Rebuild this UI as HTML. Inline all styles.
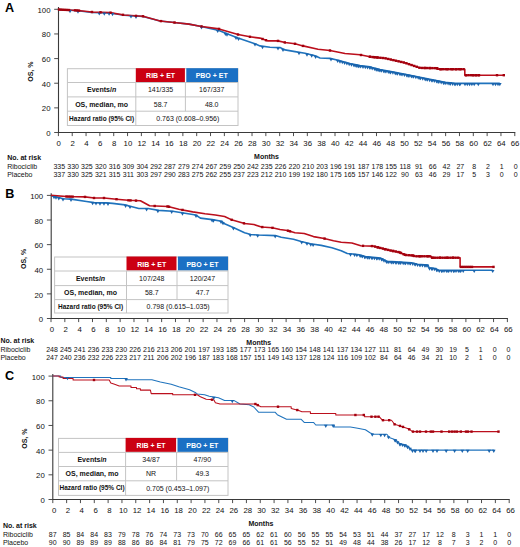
<!DOCTYPE html>
<html><head><meta charset="utf-8"><style>
html,body{margin:0;padding:0;background:#fff;}
body{width:520px;height:547px;overflow:hidden;}
svg{display:block;font-family:"Liberation Sans",sans-serif;}
</style></head><body>
<svg width="520" height="547" viewBox="0 0 520 547">
<rect width="520" height="547" fill="#fff"/>
<g>
<path d="M58.50,7.10V132.50H515.29" fill="none" stroke="#3a3a3a" stroke-width="1.1"/>
<line x1="54.20" y1="132.50" x2="58.50" y2="132.50" stroke="#3a3a3a" stroke-width="0.9"/>
<text x="50.50" y="135.81" font-size="7.8" text-anchor="end" font-weight="normal" fill="#111" >0</text>
<line x1="54.20" y1="107.86" x2="58.50" y2="107.86" stroke="#3a3a3a" stroke-width="0.9"/>
<text x="50.50" y="111.17" font-size="7.8" text-anchor="end" font-weight="normal" fill="#111" >20</text>
<line x1="54.20" y1="83.22" x2="58.50" y2="83.22" stroke="#3a3a3a" stroke-width="0.9"/>
<text x="50.50" y="86.53" font-size="7.8" text-anchor="end" font-weight="normal" fill="#111" >40</text>
<line x1="54.20" y1="58.58" x2="58.50" y2="58.58" stroke="#3a3a3a" stroke-width="0.9"/>
<text x="50.50" y="61.89" font-size="7.8" text-anchor="end" font-weight="normal" fill="#111" >60</text>
<line x1="54.20" y1="33.94" x2="58.50" y2="33.94" stroke="#3a3a3a" stroke-width="0.9"/>
<text x="50.50" y="37.25" font-size="7.8" text-anchor="end" font-weight="normal" fill="#111" >80</text>
<line x1="54.20" y1="9.30" x2="58.50" y2="9.30" stroke="#3a3a3a" stroke-width="0.9"/>
<text x="50.50" y="12.61" font-size="7.8" text-anchor="end" font-weight="normal" fill="#111" >100</text>
<line x1="58.40" y1="132.50" x2="58.40" y2="136.10" stroke="#3a3a3a" stroke-width="0.9"/>
<text x="58.75" y="146.21" font-size="7.8" text-anchor="middle" font-weight="normal" fill="#111" >0</text>
<line x1="72.23" y1="132.50" x2="72.23" y2="136.10" stroke="#3a3a3a" stroke-width="0.9"/>
<text x="72.58" y="146.21" font-size="7.8" text-anchor="middle" font-weight="normal" fill="#111" >2</text>
<line x1="86.06" y1="132.50" x2="86.06" y2="136.10" stroke="#3a3a3a" stroke-width="0.9"/>
<text x="86.41" y="146.21" font-size="7.8" text-anchor="middle" font-weight="normal" fill="#111" >4</text>
<line x1="99.89" y1="132.50" x2="99.89" y2="136.10" stroke="#3a3a3a" stroke-width="0.9"/>
<text x="100.24" y="146.21" font-size="7.8" text-anchor="middle" font-weight="normal" fill="#111" >6</text>
<line x1="113.72" y1="132.50" x2="113.72" y2="136.10" stroke="#3a3a3a" stroke-width="0.9"/>
<text x="114.07" y="146.21" font-size="7.8" text-anchor="middle" font-weight="normal" fill="#111" >8</text>
<line x1="127.55" y1="132.50" x2="127.55" y2="136.10" stroke="#3a3a3a" stroke-width="0.9"/>
<text x="127.90" y="146.21" font-size="7.8" text-anchor="middle" font-weight="normal" fill="#111" >10</text>
<line x1="141.38" y1="132.50" x2="141.38" y2="136.10" stroke="#3a3a3a" stroke-width="0.9"/>
<text x="141.73" y="146.21" font-size="7.8" text-anchor="middle" font-weight="normal" fill="#111" >12</text>
<line x1="155.21" y1="132.50" x2="155.21" y2="136.10" stroke="#3a3a3a" stroke-width="0.9"/>
<text x="155.56" y="146.21" font-size="7.8" text-anchor="middle" font-weight="normal" fill="#111" >14</text>
<line x1="169.04" y1="132.50" x2="169.04" y2="136.10" stroke="#3a3a3a" stroke-width="0.9"/>
<text x="169.39" y="146.21" font-size="7.8" text-anchor="middle" font-weight="normal" fill="#111" >16</text>
<line x1="182.87" y1="132.50" x2="182.87" y2="136.10" stroke="#3a3a3a" stroke-width="0.9"/>
<text x="183.22" y="146.21" font-size="7.8" text-anchor="middle" font-weight="normal" fill="#111" >18</text>
<line x1="196.70" y1="132.50" x2="196.70" y2="136.10" stroke="#3a3a3a" stroke-width="0.9"/>
<text x="197.05" y="146.21" font-size="7.8" text-anchor="middle" font-weight="normal" fill="#111" >20</text>
<line x1="210.53" y1="132.50" x2="210.53" y2="136.10" stroke="#3a3a3a" stroke-width="0.9"/>
<text x="210.88" y="146.21" font-size="7.8" text-anchor="middle" font-weight="normal" fill="#111" >22</text>
<line x1="224.36" y1="132.50" x2="224.36" y2="136.10" stroke="#3a3a3a" stroke-width="0.9"/>
<text x="224.71" y="146.21" font-size="7.8" text-anchor="middle" font-weight="normal" fill="#111" >24</text>
<line x1="238.19" y1="132.50" x2="238.19" y2="136.10" stroke="#3a3a3a" stroke-width="0.9"/>
<text x="238.54" y="146.21" font-size="7.8" text-anchor="middle" font-weight="normal" fill="#111" >26</text>
<line x1="252.02" y1="132.50" x2="252.02" y2="136.10" stroke="#3a3a3a" stroke-width="0.9"/>
<text x="252.37" y="146.21" font-size="7.8" text-anchor="middle" font-weight="normal" fill="#111" >28</text>
<line x1="265.85" y1="132.50" x2="265.85" y2="136.10" stroke="#3a3a3a" stroke-width="0.9"/>
<text x="266.20" y="146.21" font-size="7.8" text-anchor="middle" font-weight="normal" fill="#111" >30</text>
<line x1="279.68" y1="132.50" x2="279.68" y2="136.10" stroke="#3a3a3a" stroke-width="0.9"/>
<text x="280.03" y="146.21" font-size="7.8" text-anchor="middle" font-weight="normal" fill="#111" >32</text>
<line x1="293.51" y1="132.50" x2="293.51" y2="136.10" stroke="#3a3a3a" stroke-width="0.9"/>
<text x="293.86" y="146.21" font-size="7.8" text-anchor="middle" font-weight="normal" fill="#111" >34</text>
<line x1="307.34" y1="132.50" x2="307.34" y2="136.10" stroke="#3a3a3a" stroke-width="0.9"/>
<text x="307.69" y="146.21" font-size="7.8" text-anchor="middle" font-weight="normal" fill="#111" >36</text>
<line x1="321.17" y1="132.50" x2="321.17" y2="136.10" stroke="#3a3a3a" stroke-width="0.9"/>
<text x="321.52" y="146.21" font-size="7.8" text-anchor="middle" font-weight="normal" fill="#111" >38</text>
<line x1="335.00" y1="132.50" x2="335.00" y2="136.10" stroke="#3a3a3a" stroke-width="0.9"/>
<text x="335.35" y="146.21" font-size="7.8" text-anchor="middle" font-weight="normal" fill="#111" >40</text>
<line x1="348.83" y1="132.50" x2="348.83" y2="136.10" stroke="#3a3a3a" stroke-width="0.9"/>
<text x="349.18" y="146.21" font-size="7.8" text-anchor="middle" font-weight="normal" fill="#111" >42</text>
<line x1="362.66" y1="132.50" x2="362.66" y2="136.10" stroke="#3a3a3a" stroke-width="0.9"/>
<text x="363.01" y="146.21" font-size="7.8" text-anchor="middle" font-weight="normal" fill="#111" >44</text>
<line x1="376.49" y1="132.50" x2="376.49" y2="136.10" stroke="#3a3a3a" stroke-width="0.9"/>
<text x="376.84" y="146.21" font-size="7.8" text-anchor="middle" font-weight="normal" fill="#111" >46</text>
<line x1="390.32" y1="132.50" x2="390.32" y2="136.10" stroke="#3a3a3a" stroke-width="0.9"/>
<text x="390.67" y="146.21" font-size="7.8" text-anchor="middle" font-weight="normal" fill="#111" >48</text>
<line x1="404.15" y1="132.50" x2="404.15" y2="136.10" stroke="#3a3a3a" stroke-width="0.9"/>
<text x="404.50" y="146.21" font-size="7.8" text-anchor="middle" font-weight="normal" fill="#111" >50</text>
<line x1="417.98" y1="132.50" x2="417.98" y2="136.10" stroke="#3a3a3a" stroke-width="0.9"/>
<text x="418.33" y="146.21" font-size="7.8" text-anchor="middle" font-weight="normal" fill="#111" >52</text>
<line x1="431.81" y1="132.50" x2="431.81" y2="136.10" stroke="#3a3a3a" stroke-width="0.9"/>
<text x="432.16" y="146.21" font-size="7.8" text-anchor="middle" font-weight="normal" fill="#111" >54</text>
<line x1="445.64" y1="132.50" x2="445.64" y2="136.10" stroke="#3a3a3a" stroke-width="0.9"/>
<text x="445.99" y="146.21" font-size="7.8" text-anchor="middle" font-weight="normal" fill="#111" >56</text>
<line x1="459.47" y1="132.50" x2="459.47" y2="136.10" stroke="#3a3a3a" stroke-width="0.9"/>
<text x="459.82" y="146.21" font-size="7.8" text-anchor="middle" font-weight="normal" fill="#111" >58</text>
<line x1="473.30" y1="132.50" x2="473.30" y2="136.10" stroke="#3a3a3a" stroke-width="0.9"/>
<text x="473.65" y="146.21" font-size="7.8" text-anchor="middle" font-weight="normal" fill="#111" >60</text>
<line x1="487.13" y1="132.50" x2="487.13" y2="136.10" stroke="#3a3a3a" stroke-width="0.9"/>
<text x="487.48" y="146.21" font-size="7.8" text-anchor="middle" font-weight="normal" fill="#111" >62</text>
<line x1="500.96" y1="132.50" x2="500.96" y2="136.10" stroke="#3a3a3a" stroke-width="0.9"/>
<text x="501.31" y="146.21" font-size="7.8" text-anchor="middle" font-weight="normal" fill="#111" >64</text>
<line x1="514.79" y1="132.50" x2="514.79" y2="136.10" stroke="#3a3a3a" stroke-width="0.9"/>
<text x="515.14" y="146.21" font-size="7.8" text-anchor="middle" font-weight="normal" fill="#111" >66</text>
<text transform="translate(32.82,71.70) rotate(-90)" font-size="7.0" font-weight="bold" text-anchor="middle" fill="#111">OS, %</text>
<text x="4.90" y="11.80" font-size="12.6" font-weight="bold" fill="#000">A</text>
<text x="7.20" y="159.82" font-size="7.0" text-anchor="start" font-weight="bold" fill="#111" >No. at risk</text>
<text x="266.50" y="158.92" font-size="7.0" text-anchor="middle" font-weight="bold" fill="#111" >Months</text>
<text x="7.20" y="168.62" font-size="7.0" text-anchor="start" font-weight="normal" fill="#111" >Ribociclib</text>
<text x="7.20" y="176.72" font-size="7.0" text-anchor="start" font-weight="normal" fill="#111" >Placebo</text>
<text x="59.25" y="168.62" font-size="7.0" text-anchor="middle" font-weight="normal" fill="#111" >335</text>
<text x="59.25" y="176.72" font-size="7.0" text-anchor="middle" font-weight="normal" fill="#111" >337</text>
<text x="73.08" y="168.62" font-size="7.0" text-anchor="middle" font-weight="normal" fill="#111" >330</text>
<text x="73.08" y="176.72" font-size="7.0" text-anchor="middle" font-weight="normal" fill="#111" >330</text>
<text x="86.91" y="168.62" font-size="7.0" text-anchor="middle" font-weight="normal" fill="#111" >325</text>
<text x="86.91" y="176.72" font-size="7.0" text-anchor="middle" font-weight="normal" fill="#111" >325</text>
<text x="100.74" y="168.62" font-size="7.0" text-anchor="middle" font-weight="normal" fill="#111" >320</text>
<text x="100.74" y="176.72" font-size="7.0" text-anchor="middle" font-weight="normal" fill="#111" >321</text>
<text x="114.57" y="168.62" font-size="7.0" text-anchor="middle" font-weight="normal" fill="#111" >316</text>
<text x="114.57" y="176.72" font-size="7.0" text-anchor="middle" font-weight="normal" fill="#111" >315</text>
<text x="128.40" y="168.62" font-size="7.0" text-anchor="middle" font-weight="normal" fill="#111" >309</text>
<text x="128.40" y="176.72" font-size="7.0" text-anchor="middle" font-weight="normal" fill="#111" >311</text>
<text x="142.23" y="168.62" font-size="7.0" text-anchor="middle" font-weight="normal" fill="#111" >304</text>
<text x="142.23" y="176.72" font-size="7.0" text-anchor="middle" font-weight="normal" fill="#111" >303</text>
<text x="156.06" y="168.62" font-size="7.0" text-anchor="middle" font-weight="normal" fill="#111" >292</text>
<text x="156.06" y="176.72" font-size="7.0" text-anchor="middle" font-weight="normal" fill="#111" >297</text>
<text x="169.89" y="168.62" font-size="7.0" text-anchor="middle" font-weight="normal" fill="#111" >287</text>
<text x="169.89" y="176.72" font-size="7.0" text-anchor="middle" font-weight="normal" fill="#111" >290</text>
<text x="183.72" y="168.62" font-size="7.0" text-anchor="middle" font-weight="normal" fill="#111" >279</text>
<text x="183.72" y="176.72" font-size="7.0" text-anchor="middle" font-weight="normal" fill="#111" >283</text>
<text x="197.55" y="168.62" font-size="7.0" text-anchor="middle" font-weight="normal" fill="#111" >274</text>
<text x="197.55" y="176.72" font-size="7.0" text-anchor="middle" font-weight="normal" fill="#111" >275</text>
<text x="211.38" y="168.62" font-size="7.0" text-anchor="middle" font-weight="normal" fill="#111" >267</text>
<text x="211.38" y="176.72" font-size="7.0" text-anchor="middle" font-weight="normal" fill="#111" >262</text>
<text x="225.21" y="168.62" font-size="7.0" text-anchor="middle" font-weight="normal" fill="#111" >259</text>
<text x="225.21" y="176.72" font-size="7.0" text-anchor="middle" font-weight="normal" fill="#111" >255</text>
<text x="239.04" y="168.62" font-size="7.0" text-anchor="middle" font-weight="normal" fill="#111" >250</text>
<text x="239.04" y="176.72" font-size="7.0" text-anchor="middle" font-weight="normal" fill="#111" >237</text>
<text x="252.87" y="168.62" font-size="7.0" text-anchor="middle" font-weight="normal" fill="#111" >242</text>
<text x="252.87" y="176.72" font-size="7.0" text-anchor="middle" font-weight="normal" fill="#111" >223</text>
<text x="266.70" y="168.62" font-size="7.0" text-anchor="middle" font-weight="normal" fill="#111" >235</text>
<text x="266.70" y="176.72" font-size="7.0" text-anchor="middle" font-weight="normal" fill="#111" >212</text>
<text x="280.53" y="168.62" font-size="7.0" text-anchor="middle" font-weight="normal" fill="#111" >226</text>
<text x="280.53" y="176.72" font-size="7.0" text-anchor="middle" font-weight="normal" fill="#111" >210</text>
<text x="294.36" y="168.62" font-size="7.0" text-anchor="middle" font-weight="normal" fill="#111" >220</text>
<text x="294.36" y="176.72" font-size="7.0" text-anchor="middle" font-weight="normal" fill="#111" >199</text>
<text x="308.19" y="168.62" font-size="7.0" text-anchor="middle" font-weight="normal" fill="#111" >210</text>
<text x="308.19" y="176.72" font-size="7.0" text-anchor="middle" font-weight="normal" fill="#111" >192</text>
<text x="322.02" y="168.62" font-size="7.0" text-anchor="middle" font-weight="normal" fill="#111" >203</text>
<text x="322.02" y="176.72" font-size="7.0" text-anchor="middle" font-weight="normal" fill="#111" >180</text>
<text x="335.85" y="168.62" font-size="7.0" text-anchor="middle" font-weight="normal" fill="#111" >196</text>
<text x="335.85" y="176.72" font-size="7.0" text-anchor="middle" font-weight="normal" fill="#111" >175</text>
<text x="349.68" y="168.62" font-size="7.0" text-anchor="middle" font-weight="normal" fill="#111" >191</text>
<text x="349.68" y="176.72" font-size="7.0" text-anchor="middle" font-weight="normal" fill="#111" >165</text>
<text x="363.51" y="168.62" font-size="7.0" text-anchor="middle" font-weight="normal" fill="#111" >187</text>
<text x="363.51" y="176.72" font-size="7.0" text-anchor="middle" font-weight="normal" fill="#111" >157</text>
<text x="377.34" y="168.62" font-size="7.0" text-anchor="middle" font-weight="normal" fill="#111" >178</text>
<text x="377.34" y="176.72" font-size="7.0" text-anchor="middle" font-weight="normal" fill="#111" >146</text>
<text x="391.17" y="168.62" font-size="7.0" text-anchor="middle" font-weight="normal" fill="#111" >155</text>
<text x="391.17" y="176.72" font-size="7.0" text-anchor="middle" font-weight="normal" fill="#111" >122</text>
<text x="405.00" y="168.62" font-size="7.0" text-anchor="middle" font-weight="normal" fill="#111" >118</text>
<text x="405.00" y="176.72" font-size="7.0" text-anchor="middle" font-weight="normal" fill="#111" >90</text>
<text x="418.83" y="168.62" font-size="7.0" text-anchor="middle" font-weight="normal" fill="#111" >91</text>
<text x="418.83" y="176.72" font-size="7.0" text-anchor="middle" font-weight="normal" fill="#111" >63</text>
<text x="432.66" y="168.62" font-size="7.0" text-anchor="middle" font-weight="normal" fill="#111" >66</text>
<text x="432.66" y="176.72" font-size="7.0" text-anchor="middle" font-weight="normal" fill="#111" >46</text>
<text x="446.49" y="168.62" font-size="7.0" text-anchor="middle" font-weight="normal" fill="#111" >42</text>
<text x="446.49" y="176.72" font-size="7.0" text-anchor="middle" font-weight="normal" fill="#111" >29</text>
<text x="460.32" y="168.62" font-size="7.0" text-anchor="middle" font-weight="normal" fill="#111" >27</text>
<text x="460.32" y="176.72" font-size="7.0" text-anchor="middle" font-weight="normal" fill="#111" >17</text>
<text x="474.15" y="168.62" font-size="7.0" text-anchor="middle" font-weight="normal" fill="#111" >8</text>
<text x="474.15" y="176.72" font-size="7.0" text-anchor="middle" font-weight="normal" fill="#111" >5</text>
<text x="487.98" y="168.62" font-size="7.0" text-anchor="middle" font-weight="normal" fill="#111" >2</text>
<text x="487.98" y="176.72" font-size="7.0" text-anchor="middle" font-weight="normal" fill="#111" >3</text>
<text x="501.81" y="168.62" font-size="7.0" text-anchor="middle" font-weight="normal" fill="#111" >1</text>
<text x="501.81" y="176.72" font-size="7.0" text-anchor="middle" font-weight="normal" fill="#111" >0</text>
<text x="515.64" y="168.62" font-size="7.0" text-anchor="middle" font-weight="normal" fill="#111" >0</text>
<text x="515.64" y="176.72" font-size="7.0" text-anchor="middle" font-weight="normal" fill="#111" >0</text>
<path d="M58.3,9.5 L78.0,10.8 L92.0,12.5 L110.0,13.0 L124.0,15.2 L135.0,16.0 L143.0,16.5 L160.0,21.0 L174.0,22.5 L189.0,24.1 L200.0,26.2 L210.0,28.5 L219.0,30.5 L227.0,33.8 L238.0,37.9 L255.6,43.9 L260.0,45.9 L270.0,47.2 L280.0,47.6 L285.0,49.9 L295.0,51.6 L305.0,53.3 L315.0,55.7 L320.0,58.0 L330.0,58.4 L338.0,60.2 L350.0,63.6 L360.0,65.6 L370.0,66.9 L380.0,69.6 L395.0,72.3 L405.0,74.2 L415.0,76.2 L425.0,78.3 L435.0,80.3 L445.0,82.3 L455.0,83.4 L499.8,83.4" fill="none" stroke="#1f73bd" stroke-width="1.6" stroke-linejoin="round"/>
<path d="M58.3,9.5 L78.0,10.5 L92.0,12.0 L110.0,12.6 L124.0,15.0 L135.0,15.8 L143.0,16.3 L160.0,21.0 L174.0,22.5 L189.0,24.1 L200.0,26.2 L219.0,28.9 L238.0,34.5 L250.0,36.8 L260.0,38.1 L268.0,40.9 L278.0,40.9 L285.0,42.5 L295.0,43.8 L303.0,45.9 L318.0,49.2 L330.0,50.5 L345.0,53.5 L360.0,54.8 L370.0,56.8 L385.0,58.2 L395.0,60.5 L405.0,62.8 L415.0,66.2 L420.0,67.9 L437.0,68.2 L438.0,69.2 L464.8,69.2 L464.8,75.2 L503.8,75.2" fill="none" stroke="#bb0f1c" stroke-width="1.6" stroke-linejoin="round"/>
<path d="M68.20,9.97h3.6l-1.8,3.2z" fill="#1a64ad"/>
<path d="M76.20,10.50h3.6l-1.8,3.2z" fill="#1a64ad"/>
<path d="M97.50,12.40h3.6l-1.8,3.2z" fill="#1a64ad"/>
<path d="M102.50,12.54h3.6l-1.8,3.2z" fill="#1a64ad"/>
<path d="M107.30,12.67h3.6l-1.8,3.2z" fill="#1a64ad"/>
<path d="M110.70,13.09h3.6l-1.8,3.2z" fill="#1a64ad"/>
<path d="M129.20,15.41h3.6l-1.8,3.2z" fill="#1a64ad"/>
<path d="M134.20,15.76h3.6l-1.8,3.2z" fill="#1a64ad"/>
<path d="M199.70,26.24h3.6l-1.8,3.2z" fill="#1a64ad"/>
<path d="M215.90,29.91h3.6l-1.8,3.2z" fill="#1a64ad"/>
<path d="M223.60,32.84h3.6l-1.8,3.2z" fill="#1a64ad"/>
<path d="M225.20,33.50h3.6l-1.8,3.2z" fill="#1a64ad"/>
<path d="M234.20,36.85h3.6l-1.8,3.2z" fill="#1a64ad"/>
<path d="M236.70,37.77h3.6l-1.8,3.2z" fill="#1a64ad"/>
<path d="M253.20,43.40h3.6l-1.8,3.2z" fill="#1a64ad"/>
<path d="M260.70,45.93h3.6l-1.8,3.2z" fill="#1a64ad"/>
<path d="M276.20,47.22h3.6l-1.8,3.2z" fill="#1a64ad"/>
<path d="M281.20,48.68h3.6l-1.8,3.2z" fill="#1a64ad"/>
<path d="M297.20,51.98h3.6l-1.8,3.2z" fill="#1a64ad"/>
<path d="M305.20,53.48h3.6l-1.8,3.2z" fill="#1a64ad"/>
<path d="M309.90,54.61h3.6l-1.8,3.2z" fill="#1a64ad"/>
<path d="M313.80,55.68h3.6l-1.8,3.2z" fill="#1a64ad"/>
<path d="M329.20,58.33h3.6l-1.8,3.2z" fill="#1a64ad"/>
<path d="M335.90,59.83h3.6l-1.8,3.2z" fill="#1a64ad"/>
<path d="M353.20,64.30h3.6l-1.8,3.2z" fill="#1a64ad"/>
<path d="M355.20,64.70h3.6l-1.8,3.2z" fill="#1a64ad"/>
<path d="M357.20,65.10h3.6l-1.8,3.2z" fill="#1a64ad"/>
<path d="M368.20,66.60h3.6l-1.8,3.2z" fill="#1a64ad"/>
<path d="M374.20,68.22h3.6l-1.8,3.2z" fill="#1a64ad"/>
<path d="M376.20,68.76h3.6l-1.8,3.2z" fill="#1a64ad"/>
<path d="M378.20,69.30h3.6l-1.8,3.2z" fill="#1a64ad"/>
<path d="M383.20,70.20h3.6l-1.8,3.2z" fill="#1a64ad"/>
<path d="M388.20,71.10h3.6l-1.8,3.2z" fill="#1a64ad"/>
<path d="M394.20,72.19h3.6l-1.8,3.2z" fill="#1a64ad"/>
<path d="M399.20,73.14h3.6l-1.8,3.2z" fill="#1a64ad"/>
<path d="M406.20,74.50h3.6l-1.8,3.2z" fill="#1a64ad"/>
<path d="M410.20,75.30h3.6l-1.8,3.2z" fill="#1a64ad"/>
<path d="M418.20,76.95h3.6l-1.8,3.2z" fill="#1a64ad"/>
<path d="M424.20,78.20h3.6l-1.8,3.2z" fill="#1a64ad"/>
<path d="M430.20,79.40h3.6l-1.8,3.2z" fill="#1a64ad"/>
<path d="M436.20,80.60h3.6l-1.8,3.2z" fill="#1a64ad"/>
<path d="M442.20,81.80h3.6l-1.8,3.2z" fill="#1a64ad"/>
<path d="M448.20,82.55h3.6l-1.8,3.2z" fill="#1a64ad"/>
<path d="M453.20,83.10h3.6l-1.8,3.2z" fill="#1a64ad"/>
<path d="M458.20,83.10h3.6l-1.8,3.2z" fill="#1a64ad"/>
<path d="M476.50,83.10h3.6l-1.8,3.2z" fill="#1a64ad"/>
<path d="M491.20,83.10h3.6l-1.8,3.2z" fill="#1a64ad"/>
<path d="M493.70,83.10h3.6l-1.8,3.2z" fill="#1a64ad"/>
<path d="M496.20,83.10h3.6l-1.8,3.2z" fill="#1a64ad"/>
<path d="M498.00,83.10h3.6l-1.8,3.2z" fill="#1a64ad"/>
<path d="M338.20,60.47h3.6l-1.8,3.2z" fill="#1a64ad"/>
<path d="M340.50,61.12h3.6l-1.8,3.2z" fill="#1a64ad"/>
<path d="M342.80,61.77h3.6l-1.8,3.2z" fill="#1a64ad"/>
<path d="M345.10,62.42h3.6l-1.8,3.2z" fill="#1a64ad"/>
<path d="M347.40,63.07h3.6l-1.8,3.2z" fill="#1a64ad"/>
<path d="M349.70,63.60h3.6l-1.8,3.2z" fill="#1a64ad"/>
<path d="M352.00,64.06h3.6l-1.8,3.2z" fill="#1a64ad"/>
<path d="M354.30,64.52h3.6l-1.8,3.2z" fill="#1a64ad"/>
<path d="M356.60,64.98h3.6l-1.8,3.2z" fill="#1a64ad"/>
<path d="M358.90,65.39h3.6l-1.8,3.2z" fill="#1a64ad"/>
<path d="M361.20,65.69h3.6l-1.8,3.2z" fill="#1a64ad"/>
<path d="M363.50,65.99h3.6l-1.8,3.2z" fill="#1a64ad"/>
<path d="M365.80,66.29h3.6l-1.8,3.2z" fill="#1a64ad"/>
<path d="M368.10,66.59h3.6l-1.8,3.2z" fill="#1a64ad"/>
<path d="M370.40,67.19h3.6l-1.8,3.2z" fill="#1a64ad"/>
<path d="M372.70,67.82h3.6l-1.8,3.2z" fill="#1a64ad"/>
<path d="M375.00,68.44h3.6l-1.8,3.2z" fill="#1a64ad"/>
<path d="M377.30,69.06h3.6l-1.8,3.2z" fill="#1a64ad"/>
<path d="M379.60,69.55h3.6l-1.8,3.2z" fill="#1a64ad"/>
<path d="M381.90,69.97h3.6l-1.8,3.2z" fill="#1a64ad"/>
<path d="M384.20,70.38h3.6l-1.8,3.2z" fill="#1a64ad"/>
<path d="M386.50,70.79h3.6l-1.8,3.2z" fill="#1a64ad"/>
<path d="M388.80,71.21h3.6l-1.8,3.2z" fill="#1a64ad"/>
<path d="M391.10,71.62h3.6l-1.8,3.2z" fill="#1a64ad"/>
<path d="M393.40,72.04h3.6l-1.8,3.2z" fill="#1a64ad"/>
<path d="M395.70,72.48h3.6l-1.8,3.2z" fill="#1a64ad"/>
<path d="M398.00,72.91h3.6l-1.8,3.2z" fill="#1a64ad"/>
<path d="M400.30,73.35h3.6l-1.8,3.2z" fill="#1a64ad"/>
<path d="M402.60,73.79h3.6l-1.8,3.2z" fill="#1a64ad"/>
<path d="M404.90,74.24h3.6l-1.8,3.2z" fill="#1a64ad"/>
<path d="M407.20,74.70h3.6l-1.8,3.2z" fill="#1a64ad"/>
<path d="M409.50,75.16h3.6l-1.8,3.2z" fill="#1a64ad"/>
<path d="M411.80,75.62h3.6l-1.8,3.2z" fill="#1a64ad"/>
<path d="M414.10,76.09h3.6l-1.8,3.2z" fill="#1a64ad"/>
<path d="M416.40,76.57h3.6l-1.8,3.2z" fill="#1a64ad"/>
<path d="M418.70,77.06h3.6l-1.8,3.2z" fill="#1a64ad"/>
<path d="M421.00,77.54h3.6l-1.8,3.2z" fill="#1a64ad"/>
<path d="M423.30,78.02h3.6l-1.8,3.2z" fill="#1a64ad"/>
<path d="M425.60,78.48h3.6l-1.8,3.2z" fill="#1a64ad"/>
<path d="M427.90,78.94h3.6l-1.8,3.2z" fill="#1a64ad"/>
<path d="M430.20,79.40h3.6l-1.8,3.2z" fill="#1a64ad"/>
<path d="M432.50,79.86h3.6l-1.8,3.2z" fill="#1a64ad"/>
<path d="M434.80,80.32h3.6l-1.8,3.2z" fill="#1a64ad"/>
<path d="M437.10,80.78h3.6l-1.8,3.2z" fill="#1a64ad"/>
<path d="M439.40,81.24h3.6l-1.8,3.2z" fill="#1a64ad"/>
<path d="M441.70,81.70h3.6l-1.8,3.2z" fill="#1a64ad"/>
<path d="M444.00,82.09h3.6l-1.8,3.2z" fill="#1a64ad"/>
<path d="M446.30,82.34h3.6l-1.8,3.2z" fill="#1a64ad"/>
<path d="M448.60,82.59h3.6l-1.8,3.2z" fill="#1a64ad"/>
<path d="M450.90,82.85h3.6l-1.8,3.2z" fill="#1a64ad"/>
<path d="M453.20,83.10h3.6l-1.8,3.2z" fill="#1a64ad"/>
<path d="M455.50,83.10h3.6l-1.8,3.2z" fill="#1a64ad"/>
<path d="M457.80,83.10h3.6l-1.8,3.2z" fill="#1a64ad"/>
<path d="M463.20,83.10h3.6l-1.8,3.2z" fill="#1a64ad"/>
<path d="M465.50,83.10h3.6l-1.8,3.2z" fill="#1a64ad"/>
<path d="M467.80,83.10h3.6l-1.8,3.2z" fill="#1a64ad"/>
<path d="M470.10,83.10h3.6l-1.8,3.2z" fill="#1a64ad"/>
<path d="M472.40,83.10h3.6l-1.8,3.2z" fill="#1a64ad"/>
<rect x="57.80" y="8.34" width="2.4" height="2.4" fill="#a3000d"/>
<rect x="59.80" y="8.44" width="2.4" height="2.4" fill="#a3000d"/>
<rect x="61.80" y="8.54" width="2.4" height="2.4" fill="#a3000d"/>
<rect x="63.80" y="8.64" width="2.4" height="2.4" fill="#a3000d"/>
<rect x="65.80" y="8.74" width="2.4" height="2.4" fill="#a3000d"/>
<rect x="67.80" y="8.84" width="2.4" height="2.4" fill="#a3000d"/>
<rect x="73.80" y="9.15" width="2.4" height="2.4" fill="#a3000d"/>
<rect x="75.80" y="9.25" width="2.4" height="2.4" fill="#a3000d"/>
<rect x="77.80" y="9.41" width="2.4" height="2.4" fill="#a3000d"/>
<rect x="90.80" y="10.80" width="2.4" height="2.4" fill="#a3000d"/>
<rect x="99.30" y="11.08" width="2.4" height="2.4" fill="#a3000d"/>
<rect x="109.40" y="11.50" width="2.4" height="2.4" fill="#a3000d"/>
<rect x="121.80" y="13.63" width="2.4" height="2.4" fill="#a3000d"/>
<rect x="134.80" y="14.66" width="2.4" height="2.4" fill="#a3000d"/>
<rect x="141.80" y="15.10" width="2.4" height="2.4" fill="#a3000d"/>
<rect x="159.80" y="19.91" width="2.4" height="2.4" fill="#a3000d"/>
<rect x="173.30" y="21.35" width="2.4" height="2.4" fill="#a3000d"/>
<rect x="200.30" y="25.21" width="2.4" height="2.4" fill="#a3000d"/>
<rect x="217.80" y="27.70" width="2.4" height="2.4" fill="#a3000d"/>
<rect x="236.80" y="33.30" width="2.4" height="2.4" fill="#a3000d"/>
<rect x="248.80" y="35.60" width="2.4" height="2.4" fill="#a3000d"/>
<rect x="261.30" y="37.77" width="2.4" height="2.4" fill="#a3000d"/>
<rect x="264.80" y="39.00" width="2.4" height="2.4" fill="#a3000d"/>
<rect x="276.80" y="39.70" width="2.4" height="2.4" fill="#a3000d"/>
<rect x="283.60" y="41.25" width="2.4" height="2.4" fill="#a3000d"/>
<rect x="293.80" y="42.60" width="2.4" height="2.4" fill="#a3000d"/>
<rect x="301.80" y="44.70" width="2.4" height="2.4" fill="#a3000d"/>
<rect x="328.80" y="49.30" width="2.4" height="2.4" fill="#a3000d"/>
<rect x="359.80" y="53.80" width="2.4" height="2.4" fill="#a3000d"/>
<rect x="368.80" y="55.60" width="2.4" height="2.4" fill="#a3000d"/>
<rect x="372.80" y="55.97" width="2.4" height="2.4" fill="#a3000d"/>
<rect x="375.80" y="56.25" width="2.4" height="2.4" fill="#a3000d"/>
<rect x="423.80" y="66.79" width="2.4" height="2.4" fill="#a3000d"/>
<rect x="428.80" y="66.88" width="2.4" height="2.4" fill="#a3000d"/>
<rect x="435.80" y="67.00" width="2.4" height="2.4" fill="#a3000d"/>
<rect x="439.80" y="68.00" width="2.4" height="2.4" fill="#a3000d"/>
<rect x="445.80" y="68.00" width="2.4" height="2.4" fill="#a3000d"/>
<rect x="450.80" y="68.00" width="2.4" height="2.4" fill="#a3000d"/>
<rect x="454.80" y="68.00" width="2.4" height="2.4" fill="#a3000d"/>
<rect x="458.80" y="68.00" width="2.4" height="2.4" fill="#a3000d"/>
<rect x="464.80" y="74.00" width="2.4" height="2.4" fill="#a3000d"/>
<rect x="471.80" y="74.00" width="2.4" height="2.4" fill="#a3000d"/>
<rect x="474.80" y="74.00" width="2.4" height="2.4" fill="#a3000d"/>
<rect x="477.80" y="74.00" width="2.4" height="2.4" fill="#a3000d"/>
<rect x="495.80" y="74.00" width="2.4" height="2.4" fill="#a3000d"/>
<rect x="502.60" y="74.00" width="2.4" height="2.4" fill="#a3000d"/>
<rect x="368.80" y="55.60" width="2.4" height="2.4" fill="#a3000d"/>
<rect x="371.40" y="55.84" width="2.4" height="2.4" fill="#a3000d"/>
<rect x="374.00" y="56.09" width="2.4" height="2.4" fill="#a3000d"/>
<rect x="376.60" y="56.33" width="2.4" height="2.4" fill="#a3000d"/>
<rect x="379.20" y="56.57" width="2.4" height="2.4" fill="#a3000d"/>
<rect x="381.80" y="56.81" width="2.4" height="2.4" fill="#a3000d"/>
<rect x="384.40" y="57.14" width="2.4" height="2.4" fill="#a3000d"/>
<rect x="387.00" y="57.74" width="2.4" height="2.4" fill="#a3000d"/>
<rect x="389.60" y="58.33" width="2.4" height="2.4" fill="#a3000d"/>
<rect x="392.20" y="58.93" width="2.4" height="2.4" fill="#a3000d"/>
<rect x="394.80" y="59.53" width="2.4" height="2.4" fill="#a3000d"/>
<rect x="397.40" y="60.13" width="2.4" height="2.4" fill="#a3000d"/>
<rect x="400.00" y="60.73" width="2.4" height="2.4" fill="#a3000d"/>
<rect x="402.60" y="61.32" width="2.4" height="2.4" fill="#a3000d"/>
<rect x="405.20" y="62.08" width="2.4" height="2.4" fill="#a3000d"/>
<rect x="407.80" y="62.96" width="2.4" height="2.4" fill="#a3000d"/>
<rect x="410.40" y="63.84" width="2.4" height="2.4" fill="#a3000d"/>
<rect x="413.00" y="64.73" width="2.4" height="2.4" fill="#a3000d"/>
<rect x="415.60" y="65.61" width="2.4" height="2.4" fill="#a3000d"/>
<rect x="418.20" y="66.50" width="2.4" height="2.4" fill="#a3000d"/>
<rect x="420.80" y="66.74" width="2.4" height="2.4" fill="#a3000d"/>
<rect x="423.40" y="66.78" width="2.4" height="2.4" fill="#a3000d"/>
<rect x="426.00" y="66.83" width="2.4" height="2.4" fill="#a3000d"/>
<rect x="428.60" y="66.87" width="2.4" height="2.4" fill="#a3000d"/>
<rect x="431.20" y="66.92" width="2.4" height="2.4" fill="#a3000d"/>
<rect x="433.80" y="66.96" width="2.4" height="2.4" fill="#a3000d"/>
<rect x="436.40" y="67.60" width="2.4" height="2.4" fill="#a3000d"/>
<rect x="439.00" y="68.00" width="2.4" height="2.4" fill="#a3000d"/>
<rect x="441.60" y="68.00" width="2.4" height="2.4" fill="#a3000d"/>
<rect x="444.20" y="68.00" width="2.4" height="2.4" fill="#a3000d"/>
<rect x="446.80" y="68.00" width="2.4" height="2.4" fill="#a3000d"/>
<rect x="449.40" y="68.00" width="2.4" height="2.4" fill="#a3000d"/>
<rect x="452.00" y="68.00" width="2.4" height="2.4" fill="#a3000d"/>
<rect x="454.60" y="68.00" width="2.4" height="2.4" fill="#a3000d"/>
<rect x="457.20" y="68.00" width="2.4" height="2.4" fill="#a3000d"/>
<rect x="459.80" y="68.00" width="2.4" height="2.4" fill="#a3000d"/>
<rect x="462.40" y="68.00" width="2.4" height="2.4" fill="#a3000d"/>
<rect x="464.80" y="74.00" width="2.4" height="2.4" fill="#a3000d"/>
<rect x="467.30" y="74.00" width="2.4" height="2.4" fill="#a3000d"/>
<rect x="469.80" y="74.00" width="2.4" height="2.4" fill="#a3000d"/>
<rect x="472.30" y="74.00" width="2.4" height="2.4" fill="#a3000d"/>
<rect x="474.80" y="74.00" width="2.4" height="2.4" fill="#a3000d"/>
<rect x="477.30" y="74.00" width="2.4" height="2.4" fill="#a3000d"/>
<rect x="67.40" y="68.70" width="170.60" height="56.80" fill="#fff" stroke="#c4c4c4" stroke-width="1"/>
<rect x="135.80" y="68.20" width="49.10" height="13.80" fill="#cb0012"/>
<rect x="186.30" y="68.20" width="51.70" height="13.80" fill="#1b70c4"/>
<line x1="67.40" y1="82.50" x2="238.00" y2="82.50" stroke="#c4c4c4" stroke-width="1"/>
<line x1="67.40" y1="96.90" x2="238.00" y2="96.90" stroke="#c4c4c4" stroke-width="1"/>
<line x1="67.40" y1="111.20" x2="238.00" y2="111.20" stroke="#c4c4c4" stroke-width="1"/>
<line x1="135.80" y1="82.50" x2="135.80" y2="125.50" stroke="#c4c4c4" stroke-width="1"/>
<line x1="185.40" y1="82.50" x2="185.40" y2="111.20" stroke="#c4c4c4" stroke-width="1"/>
<text x="160.60" y="78.12" font-size="7.0" text-anchor="middle" font-weight="bold" fill="#fff" >RIB + ET</text>
<text x="211.70" y="78.12" font-size="7.0" text-anchor="middle" font-weight="bold" fill="#fff" >PBO + ET</text>
<text x="101.60" y="92.22" font-size="7.0" font-weight="bold" text-anchor="middle" fill="#111">Events/<tspan font-style="italic">n</tspan></text>
<text x="101.60" y="106.57" font-size="7.0" text-anchor="middle" font-weight="bold" fill="#111" >OS, median, mo</text>
<text x="101.60" y="120.69" font-size="6.5" text-anchor="middle" font-weight="bold" fill="#111" >Hazard ratio (95% CI)</text>
<text x="160.60" y="92.22" font-size="7.0" text-anchor="middle" font-weight="normal" fill="#111" >141/335</text>
<text x="211.70" y="92.22" font-size="7.0" text-anchor="middle" font-weight="normal" fill="#111" >167/337</text>
<text x="160.60" y="106.57" font-size="7.0" text-anchor="middle" font-weight="normal" fill="#111" >58.7</text>
<text x="211.70" y="106.57" font-size="7.0" text-anchor="middle" font-weight="normal" fill="#111" >48.0</text>
<text x="187.80" y="120.87" font-size="7.0" text-anchor="middle" font-weight="normal" fill="#111" >0.763 (0.608–0.956)</text>
</g>
<g>
<path d="M51.20,193.20V318.50H507.89" fill="none" stroke="#3a3a3a" stroke-width="1.1"/>
<line x1="46.90" y1="318.50" x2="51.20" y2="318.50" stroke="#3a3a3a" stroke-width="0.9"/>
<text x="43.20" y="322.31" font-size="7.8" text-anchor="end" font-weight="normal" fill="#111" >0</text>
<line x1="46.90" y1="293.88" x2="51.20" y2="293.88" stroke="#3a3a3a" stroke-width="0.9"/>
<text x="43.20" y="297.69" font-size="7.8" text-anchor="end" font-weight="normal" fill="#111" >20</text>
<line x1="46.90" y1="269.26" x2="51.20" y2="269.26" stroke="#3a3a3a" stroke-width="0.9"/>
<text x="43.20" y="273.07" font-size="7.8" text-anchor="end" font-weight="normal" fill="#111" >40</text>
<line x1="46.90" y1="244.64" x2="51.20" y2="244.64" stroke="#3a3a3a" stroke-width="0.9"/>
<text x="43.20" y="248.45" font-size="7.8" text-anchor="end" font-weight="normal" fill="#111" >60</text>
<line x1="46.90" y1="220.02" x2="51.20" y2="220.02" stroke="#3a3a3a" stroke-width="0.9"/>
<text x="43.20" y="223.83" font-size="7.8" text-anchor="end" font-weight="normal" fill="#111" >80</text>
<line x1="46.90" y1="195.40" x2="51.20" y2="195.40" stroke="#3a3a3a" stroke-width="0.9"/>
<text x="43.20" y="199.21" font-size="7.8" text-anchor="end" font-weight="normal" fill="#111" >100</text>
<line x1="51.00" y1="318.50" x2="51.00" y2="322.10" stroke="#3a3a3a" stroke-width="0.9"/>
<text x="51.90" y="332.31" font-size="7.8" text-anchor="middle" font-weight="normal" fill="#111" >0</text>
<line x1="64.83" y1="318.50" x2="64.83" y2="322.10" stroke="#3a3a3a" stroke-width="0.9"/>
<text x="65.73" y="332.31" font-size="7.8" text-anchor="middle" font-weight="normal" fill="#111" >2</text>
<line x1="78.66" y1="318.50" x2="78.66" y2="322.10" stroke="#3a3a3a" stroke-width="0.9"/>
<text x="79.56" y="332.31" font-size="7.8" text-anchor="middle" font-weight="normal" fill="#111" >4</text>
<line x1="92.49" y1="318.50" x2="92.49" y2="322.10" stroke="#3a3a3a" stroke-width="0.9"/>
<text x="93.39" y="332.31" font-size="7.8" text-anchor="middle" font-weight="normal" fill="#111" >6</text>
<line x1="106.32" y1="318.50" x2="106.32" y2="322.10" stroke="#3a3a3a" stroke-width="0.9"/>
<text x="107.22" y="332.31" font-size="7.8" text-anchor="middle" font-weight="normal" fill="#111" >8</text>
<line x1="120.15" y1="318.50" x2="120.15" y2="322.10" stroke="#3a3a3a" stroke-width="0.9"/>
<text x="121.05" y="332.31" font-size="7.8" text-anchor="middle" font-weight="normal" fill="#111" >10</text>
<line x1="133.98" y1="318.50" x2="133.98" y2="322.10" stroke="#3a3a3a" stroke-width="0.9"/>
<text x="134.88" y="332.31" font-size="7.8" text-anchor="middle" font-weight="normal" fill="#111" >12</text>
<line x1="147.81" y1="318.50" x2="147.81" y2="322.10" stroke="#3a3a3a" stroke-width="0.9"/>
<text x="148.71" y="332.31" font-size="7.8" text-anchor="middle" font-weight="normal" fill="#111" >14</text>
<line x1="161.64" y1="318.50" x2="161.64" y2="322.10" stroke="#3a3a3a" stroke-width="0.9"/>
<text x="162.54" y="332.31" font-size="7.8" text-anchor="middle" font-weight="normal" fill="#111" >16</text>
<line x1="175.47" y1="318.50" x2="175.47" y2="322.10" stroke="#3a3a3a" stroke-width="0.9"/>
<text x="176.37" y="332.31" font-size="7.8" text-anchor="middle" font-weight="normal" fill="#111" >18</text>
<line x1="189.30" y1="318.50" x2="189.30" y2="322.10" stroke="#3a3a3a" stroke-width="0.9"/>
<text x="190.20" y="332.31" font-size="7.8" text-anchor="middle" font-weight="normal" fill="#111" >20</text>
<line x1="203.13" y1="318.50" x2="203.13" y2="322.10" stroke="#3a3a3a" stroke-width="0.9"/>
<text x="204.03" y="332.31" font-size="7.8" text-anchor="middle" font-weight="normal" fill="#111" >22</text>
<line x1="216.96" y1="318.50" x2="216.96" y2="322.10" stroke="#3a3a3a" stroke-width="0.9"/>
<text x="217.86" y="332.31" font-size="7.8" text-anchor="middle" font-weight="normal" fill="#111" >24</text>
<line x1="230.79" y1="318.50" x2="230.79" y2="322.10" stroke="#3a3a3a" stroke-width="0.9"/>
<text x="231.69" y="332.31" font-size="7.8" text-anchor="middle" font-weight="normal" fill="#111" >26</text>
<line x1="244.62" y1="318.50" x2="244.62" y2="322.10" stroke="#3a3a3a" stroke-width="0.9"/>
<text x="245.52" y="332.31" font-size="7.8" text-anchor="middle" font-weight="normal" fill="#111" >28</text>
<line x1="258.45" y1="318.50" x2="258.45" y2="322.10" stroke="#3a3a3a" stroke-width="0.9"/>
<text x="259.35" y="332.31" font-size="7.8" text-anchor="middle" font-weight="normal" fill="#111" >30</text>
<line x1="272.28" y1="318.50" x2="272.28" y2="322.10" stroke="#3a3a3a" stroke-width="0.9"/>
<text x="273.18" y="332.31" font-size="7.8" text-anchor="middle" font-weight="normal" fill="#111" >32</text>
<line x1="286.11" y1="318.50" x2="286.11" y2="322.10" stroke="#3a3a3a" stroke-width="0.9"/>
<text x="287.01" y="332.31" font-size="7.8" text-anchor="middle" font-weight="normal" fill="#111" >34</text>
<line x1="299.94" y1="318.50" x2="299.94" y2="322.10" stroke="#3a3a3a" stroke-width="0.9"/>
<text x="300.84" y="332.31" font-size="7.8" text-anchor="middle" font-weight="normal" fill="#111" >36</text>
<line x1="313.77" y1="318.50" x2="313.77" y2="322.10" stroke="#3a3a3a" stroke-width="0.9"/>
<text x="314.67" y="332.31" font-size="7.8" text-anchor="middle" font-weight="normal" fill="#111" >38</text>
<line x1="327.60" y1="318.50" x2="327.60" y2="322.10" stroke="#3a3a3a" stroke-width="0.9"/>
<text x="328.50" y="332.31" font-size="7.8" text-anchor="middle" font-weight="normal" fill="#111" >40</text>
<line x1="341.43" y1="318.50" x2="341.43" y2="322.10" stroke="#3a3a3a" stroke-width="0.9"/>
<text x="342.33" y="332.31" font-size="7.8" text-anchor="middle" font-weight="normal" fill="#111" >42</text>
<line x1="355.26" y1="318.50" x2="355.26" y2="322.10" stroke="#3a3a3a" stroke-width="0.9"/>
<text x="356.16" y="332.31" font-size="7.8" text-anchor="middle" font-weight="normal" fill="#111" >44</text>
<line x1="369.09" y1="318.50" x2="369.09" y2="322.10" stroke="#3a3a3a" stroke-width="0.9"/>
<text x="369.99" y="332.31" font-size="7.8" text-anchor="middle" font-weight="normal" fill="#111" >46</text>
<line x1="382.92" y1="318.50" x2="382.92" y2="322.10" stroke="#3a3a3a" stroke-width="0.9"/>
<text x="383.82" y="332.31" font-size="7.8" text-anchor="middle" font-weight="normal" fill="#111" >48</text>
<line x1="396.75" y1="318.50" x2="396.75" y2="322.10" stroke="#3a3a3a" stroke-width="0.9"/>
<text x="397.65" y="332.31" font-size="7.8" text-anchor="middle" font-weight="normal" fill="#111" >50</text>
<line x1="410.58" y1="318.50" x2="410.58" y2="322.10" stroke="#3a3a3a" stroke-width="0.9"/>
<text x="411.48" y="332.31" font-size="7.8" text-anchor="middle" font-weight="normal" fill="#111" >52</text>
<line x1="424.41" y1="318.50" x2="424.41" y2="322.10" stroke="#3a3a3a" stroke-width="0.9"/>
<text x="425.31" y="332.31" font-size="7.8" text-anchor="middle" font-weight="normal" fill="#111" >54</text>
<line x1="438.24" y1="318.50" x2="438.24" y2="322.10" stroke="#3a3a3a" stroke-width="0.9"/>
<text x="439.14" y="332.31" font-size="7.8" text-anchor="middle" font-weight="normal" fill="#111" >56</text>
<line x1="452.07" y1="318.50" x2="452.07" y2="322.10" stroke="#3a3a3a" stroke-width="0.9"/>
<text x="452.97" y="332.31" font-size="7.8" text-anchor="middle" font-weight="normal" fill="#111" >58</text>
<line x1="465.90" y1="318.50" x2="465.90" y2="322.10" stroke="#3a3a3a" stroke-width="0.9"/>
<text x="466.80" y="332.31" font-size="7.8" text-anchor="middle" font-weight="normal" fill="#111" >60</text>
<line x1="479.73" y1="318.50" x2="479.73" y2="322.10" stroke="#3a3a3a" stroke-width="0.9"/>
<text x="480.63" y="332.31" font-size="7.8" text-anchor="middle" font-weight="normal" fill="#111" >62</text>
<line x1="493.56" y1="318.50" x2="493.56" y2="322.10" stroke="#3a3a3a" stroke-width="0.9"/>
<text x="494.46" y="332.31" font-size="7.8" text-anchor="middle" font-weight="normal" fill="#111" >64</text>
<line x1="507.39" y1="318.50" x2="507.39" y2="322.10" stroke="#3a3a3a" stroke-width="0.9"/>
<text x="508.29" y="332.31" font-size="7.8" text-anchor="middle" font-weight="normal" fill="#111" >66</text>
<text transform="translate(26.02,258.90) rotate(-90)" font-size="7.0" font-weight="bold" text-anchor="middle" fill="#111">OS, %</text>
<text x="5.20" y="197.80" font-size="12.6" font-weight="bold" fill="#000">B</text>
<text x="0.40" y="343.32" font-size="7.0" text-anchor="start" font-weight="bold" fill="#111" >No. at risk</text>
<text x="258.75" y="344.52" font-size="7.0" text-anchor="middle" font-weight="bold" fill="#111" >Months</text>
<text x="0.40" y="352.32" font-size="7.0" text-anchor="start" font-weight="normal" fill="#111" >Ribociclib</text>
<text x="0.40" y="360.42" font-size="7.0" text-anchor="start" font-weight="normal" fill="#111" >Placebo</text>
<text x="52.05" y="352.32" font-size="7.0" text-anchor="middle" font-weight="normal" fill="#111" >248</text>
<text x="52.05" y="360.42" font-size="7.0" text-anchor="middle" font-weight="normal" fill="#111" >247</text>
<text x="65.88" y="352.32" font-size="7.0" text-anchor="middle" font-weight="normal" fill="#111" >245</text>
<text x="65.88" y="360.42" font-size="7.0" text-anchor="middle" font-weight="normal" fill="#111" >240</text>
<text x="79.71" y="352.32" font-size="7.0" text-anchor="middle" font-weight="normal" fill="#111" >241</text>
<text x="79.71" y="360.42" font-size="7.0" text-anchor="middle" font-weight="normal" fill="#111" >236</text>
<text x="93.54" y="352.32" font-size="7.0" text-anchor="middle" font-weight="normal" fill="#111" >236</text>
<text x="93.54" y="360.42" font-size="7.0" text-anchor="middle" font-weight="normal" fill="#111" >232</text>
<text x="107.37" y="352.32" font-size="7.0" text-anchor="middle" font-weight="normal" fill="#111" >233</text>
<text x="107.37" y="360.42" font-size="7.0" text-anchor="middle" font-weight="normal" fill="#111" >226</text>
<text x="121.20" y="352.32" font-size="7.0" text-anchor="middle" font-weight="normal" fill="#111" >230</text>
<text x="121.20" y="360.42" font-size="7.0" text-anchor="middle" font-weight="normal" fill="#111" >223</text>
<text x="135.03" y="352.32" font-size="7.0" text-anchor="middle" font-weight="normal" fill="#111" >226</text>
<text x="135.03" y="360.42" font-size="7.0" text-anchor="middle" font-weight="normal" fill="#111" >217</text>
<text x="148.86" y="352.32" font-size="7.0" text-anchor="middle" font-weight="normal" fill="#111" >216</text>
<text x="148.86" y="360.42" font-size="7.0" text-anchor="middle" font-weight="normal" fill="#111" >211</text>
<text x="162.69" y="352.32" font-size="7.0" text-anchor="middle" font-weight="normal" fill="#111" >213</text>
<text x="162.69" y="360.42" font-size="7.0" text-anchor="middle" font-weight="normal" fill="#111" >206</text>
<text x="176.52" y="352.32" font-size="7.0" text-anchor="middle" font-weight="normal" fill="#111" >206</text>
<text x="176.52" y="360.42" font-size="7.0" text-anchor="middle" font-weight="normal" fill="#111" >202</text>
<text x="190.35" y="352.32" font-size="7.0" text-anchor="middle" font-weight="normal" fill="#111" >201</text>
<text x="190.35" y="360.42" font-size="7.0" text-anchor="middle" font-weight="normal" fill="#111" >196</text>
<text x="204.18" y="352.32" font-size="7.0" text-anchor="middle" font-weight="normal" fill="#111" >197</text>
<text x="204.18" y="360.42" font-size="7.0" text-anchor="middle" font-weight="normal" fill="#111" >187</text>
<text x="218.01" y="352.32" font-size="7.0" text-anchor="middle" font-weight="normal" fill="#111" >193</text>
<text x="218.01" y="360.42" font-size="7.0" text-anchor="middle" font-weight="normal" fill="#111" >183</text>
<text x="231.84" y="352.32" font-size="7.0" text-anchor="middle" font-weight="normal" fill="#111" >185</text>
<text x="231.84" y="360.42" font-size="7.0" text-anchor="middle" font-weight="normal" fill="#111" >168</text>
<text x="245.67" y="352.32" font-size="7.0" text-anchor="middle" font-weight="normal" fill="#111" >177</text>
<text x="245.67" y="360.42" font-size="7.0" text-anchor="middle" font-weight="normal" fill="#111" >157</text>
<text x="259.50" y="352.32" font-size="7.0" text-anchor="middle" font-weight="normal" fill="#111" >173</text>
<text x="259.50" y="360.42" font-size="7.0" text-anchor="middle" font-weight="normal" fill="#111" >151</text>
<text x="273.33" y="352.32" font-size="7.0" text-anchor="middle" font-weight="normal" fill="#111" >165</text>
<text x="273.33" y="360.42" font-size="7.0" text-anchor="middle" font-weight="normal" fill="#111" >149</text>
<text x="287.16" y="352.32" font-size="7.0" text-anchor="middle" font-weight="normal" fill="#111" >160</text>
<text x="287.16" y="360.42" font-size="7.0" text-anchor="middle" font-weight="normal" fill="#111" >143</text>
<text x="300.99" y="352.32" font-size="7.0" text-anchor="middle" font-weight="normal" fill="#111" >154</text>
<text x="300.99" y="360.42" font-size="7.0" text-anchor="middle" font-weight="normal" fill="#111" >137</text>
<text x="314.82" y="352.32" font-size="7.0" text-anchor="middle" font-weight="normal" fill="#111" >148</text>
<text x="314.82" y="360.42" font-size="7.0" text-anchor="middle" font-weight="normal" fill="#111" >128</text>
<text x="328.65" y="352.32" font-size="7.0" text-anchor="middle" font-weight="normal" fill="#111" >141</text>
<text x="328.65" y="360.42" font-size="7.0" text-anchor="middle" font-weight="normal" fill="#111" >124</text>
<text x="342.48" y="352.32" font-size="7.0" text-anchor="middle" font-weight="normal" fill="#111" >137</text>
<text x="342.48" y="360.42" font-size="7.0" text-anchor="middle" font-weight="normal" fill="#111" >116</text>
<text x="356.31" y="352.32" font-size="7.0" text-anchor="middle" font-weight="normal" fill="#111" >134</text>
<text x="356.31" y="360.42" font-size="7.0" text-anchor="middle" font-weight="normal" fill="#111" >109</text>
<text x="370.14" y="352.32" font-size="7.0" text-anchor="middle" font-weight="normal" fill="#111" >127</text>
<text x="370.14" y="360.42" font-size="7.0" text-anchor="middle" font-weight="normal" fill="#111" >102</text>
<text x="383.97" y="352.32" font-size="7.0" text-anchor="middle" font-weight="normal" fill="#111" >111</text>
<text x="383.97" y="360.42" font-size="7.0" text-anchor="middle" font-weight="normal" fill="#111" >84</text>
<text x="397.80" y="352.32" font-size="7.0" text-anchor="middle" font-weight="normal" fill="#111" >81</text>
<text x="397.80" y="360.42" font-size="7.0" text-anchor="middle" font-weight="normal" fill="#111" >64</text>
<text x="411.63" y="352.32" font-size="7.0" text-anchor="middle" font-weight="normal" fill="#111" >64</text>
<text x="411.63" y="360.42" font-size="7.0" text-anchor="middle" font-weight="normal" fill="#111" >46</text>
<text x="425.46" y="352.32" font-size="7.0" text-anchor="middle" font-weight="normal" fill="#111" >49</text>
<text x="425.46" y="360.42" font-size="7.0" text-anchor="middle" font-weight="normal" fill="#111" >34</text>
<text x="439.29" y="352.32" font-size="7.0" text-anchor="middle" font-weight="normal" fill="#111" >30</text>
<text x="439.29" y="360.42" font-size="7.0" text-anchor="middle" font-weight="normal" fill="#111" >21</text>
<text x="453.12" y="352.32" font-size="7.0" text-anchor="middle" font-weight="normal" fill="#111" >19</text>
<text x="453.12" y="360.42" font-size="7.0" text-anchor="middle" font-weight="normal" fill="#111" >10</text>
<text x="466.95" y="352.32" font-size="7.0" text-anchor="middle" font-weight="normal" fill="#111" >5</text>
<text x="466.95" y="360.42" font-size="7.0" text-anchor="middle" font-weight="normal" fill="#111" >2</text>
<text x="480.78" y="352.32" font-size="7.0" text-anchor="middle" font-weight="normal" fill="#111" >1</text>
<text x="480.78" y="360.42" font-size="7.0" text-anchor="middle" font-weight="normal" fill="#111" >1</text>
<text x="494.61" y="352.32" font-size="7.0" text-anchor="middle" font-weight="normal" fill="#111" >0</text>
<text x="494.61" y="360.42" font-size="7.0" text-anchor="middle" font-weight="normal" fill="#111" >0</text>
<text x="508.44" y="352.32" font-size="7.0" text-anchor="middle" font-weight="normal" fill="#111" >0</text>
<text x="508.44" y="360.42" font-size="7.0" text-anchor="middle" font-weight="normal" fill="#111" >0</text>
<path d="M51.0,195.4 L57.2,197.2 L63.4,198.8 L71.0,199.1 L86.5,201.5 L94.2,202.6 L106.5,202.9 L112.6,203.4 L124.9,204.9 L131.2,206.5 L138.8,208.5 L148.0,208.5 L158.8,210.4 L172.7,211.2 L181.9,212.7 L195.8,215.0 L200.4,218.1 L212.3,219.6 L221.5,221.2 L224.6,223.8 L233.8,227.8 L244.6,232.7 L250.8,234.5 L258.5,235.0 L275.4,235.6 L281.2,237.2 L293.5,239.2 L301.2,241.5 L310.4,243.8 L321.2,245.4 L331.9,247.7 L341.2,250.8 L347.3,253.5 L355.0,254.2 L359.2,254.7 L365.4,256.5 L380.8,258.1 L386.9,261.2 L396.2,261.9 L411.5,262.7 L417.7,264.2 L428.0,265.0 L429.0,267.7 L435.8,268.5 L438.0,270.2 L492.7,270.2" fill="none" stroke="#1f73bd" stroke-width="1.6" stroke-linejoin="round"/>
<path d="M51.0,195.4 L66.5,196.5 L84.9,196.9 L94.2,198.0 L104.2,198.0 L116.5,199.2 L128.0,200.3 L140.4,200.8 L149.6,205.8 L168.0,206.5 L178.8,209.2 L192.7,211.9 L205.0,213.8 L215.4,215.0 L224.6,216.5 L232.3,220.1 L244.6,223.5 L253.8,224.5 L261.5,227.0 L272.3,227.8 L280.0,229.5 L287.3,230.5 L295.0,232.8 L304.2,233.5 L313.5,236.6 L324.2,238.5 L333.5,240.8 L341.2,242.3 L351.9,243.0 L360.8,245.8 L373.0,246.1 L380.8,248.1 L390.0,250.4 L399.2,252.2 L405.4,255.0 L413.1,255.5 L414.6,256.3 L431.2,256.3 L431.2,257.7 L460.1,257.7 L460.1,266.9 L493.5,266.9" fill="none" stroke="#bb0f1c" stroke-width="1.6" stroke-linejoin="round"/>
<path d="M52.20,195.97h3.6l-1.8,3.2z" fill="#1a64ad"/>
<path d="M54.20,196.55h3.6l-1.8,3.2z" fill="#1a64ad"/>
<path d="M57.00,197.31h3.6l-1.8,3.2z" fill="#1a64ad"/>
<path d="M61.20,198.40h3.6l-1.8,3.2z" fill="#1a64ad"/>
<path d="M69.20,198.80h3.6l-1.8,3.2z" fill="#1a64ad"/>
<path d="M90.80,202.07h3.6l-1.8,3.2z" fill="#1a64ad"/>
<path d="M94.20,202.34h3.6l-1.8,3.2z" fill="#1a64ad"/>
<path d="M98.20,202.44h3.6l-1.8,3.2z" fill="#1a64ad"/>
<path d="M102.20,202.54h3.6l-1.8,3.2z" fill="#1a64ad"/>
<path d="M106.20,202.72h3.6l-1.8,3.2z" fill="#1a64ad"/>
<path d="M123.80,204.78h3.6l-1.8,3.2z" fill="#1a64ad"/>
<path d="M128.20,205.90h3.6l-1.8,3.2z" fill="#1a64ad"/>
<path d="M144.80,208.20h3.6l-1.8,3.2z" fill="#1a64ad"/>
<path d="M156.10,209.94h3.6l-1.8,3.2z" fill="#1a64ad"/>
<path d="M169.90,210.84h3.6l-1.8,3.2z" fill="#1a64ad"/>
<path d="M180.70,212.50h3.6l-1.8,3.2z" fill="#1a64ad"/>
<path d="M194.20,214.83h3.6l-1.8,3.2z" fill="#1a64ad"/>
<path d="M210.30,219.27h3.6l-1.8,3.2z" fill="#1a64ad"/>
<path d="M211.70,219.51h3.6l-1.8,3.2z" fill="#1a64ad"/>
<path d="M219.20,220.81h3.6l-1.8,3.2z" fill="#1a64ad"/>
<path d="M221.20,222.16h3.6l-1.8,3.2z" fill="#1a64ad"/>
<path d="M231.60,227.33h3.6l-1.8,3.2z" fill="#1a64ad"/>
<path d="M248.40,234.03h3.6l-1.8,3.2z" fill="#1a64ad"/>
<path d="M255.90,234.65h3.6l-1.8,3.2z" fill="#1a64ad"/>
<path d="M273.40,235.29h3.6l-1.8,3.2z" fill="#1a64ad"/>
<path d="M299.90,241.32h3.6l-1.8,3.2z" fill="#1a64ad"/>
<path d="M305.20,242.65h3.6l-1.8,3.2z" fill="#1a64ad"/>
<path d="M309.00,243.56h3.6l-1.8,3.2z" fill="#1a64ad"/>
<path d="M311.30,243.90h3.6l-1.8,3.2z" fill="#1a64ad"/>
<path d="M348.70,253.49h3.6l-1.8,3.2z" fill="#1a64ad"/>
<path d="M352.80,253.86h3.6l-1.8,3.2z" fill="#1a64ad"/>
<path d="M355.10,254.13h3.6l-1.8,3.2z" fill="#1a64ad"/>
<path d="M359.20,254.92h3.6l-1.8,3.2z" fill="#1a64ad"/>
<path d="M363.20,256.08h3.6l-1.8,3.2z" fill="#1a64ad"/>
<path d="M366.20,256.47h3.6l-1.8,3.2z" fill="#1a64ad"/>
<path d="M370.20,256.89h3.6l-1.8,3.2z" fill="#1a64ad"/>
<path d="M375.20,257.41h3.6l-1.8,3.2z" fill="#1a64ad"/>
<path d="M380.20,258.41h3.6l-1.8,3.2z" fill="#1a64ad"/>
<path d="M385.20,260.91h3.6l-1.8,3.2z" fill="#1a64ad"/>
<path d="M390.20,261.28h3.6l-1.8,3.2z" fill="#1a64ad"/>
<path d="M394.20,261.58h3.6l-1.8,3.2z" fill="#1a64ad"/>
<path d="M398.20,261.80h3.6l-1.8,3.2z" fill="#1a64ad"/>
<path d="M403.20,262.06h3.6l-1.8,3.2z" fill="#1a64ad"/>
<path d="M408.20,262.32h3.6l-1.8,3.2z" fill="#1a64ad"/>
<path d="M413.20,263.25h3.6l-1.8,3.2z" fill="#1a64ad"/>
<path d="M418.20,264.08h3.6l-1.8,3.2z" fill="#1a64ad"/>
<path d="M424.20,264.54h3.6l-1.8,3.2z" fill="#1a64ad"/>
<path d="M430.20,267.75h3.6l-1.8,3.2z" fill="#1a64ad"/>
<path d="M435.20,269.13h3.6l-1.8,3.2z" fill="#1a64ad"/>
<path d="M440.20,269.90h3.6l-1.8,3.2z" fill="#1a64ad"/>
<path d="M446.20,269.90h3.6l-1.8,3.2z" fill="#1a64ad"/>
<path d="M452.20,269.90h3.6l-1.8,3.2z" fill="#1a64ad"/>
<path d="M458.20,269.90h3.6l-1.8,3.2z" fill="#1a64ad"/>
<path d="M472.40,269.90h3.6l-1.8,3.2z" fill="#1a64ad"/>
<path d="M490.90,269.90h3.6l-1.8,3.2z" fill="#1a64ad"/>
<path d="M358.20,254.63h3.6l-1.8,3.2z" fill="#1a64ad"/>
<path d="M360.60,255.33h3.6l-1.8,3.2z" fill="#1a64ad"/>
<path d="M363.00,256.03h3.6l-1.8,3.2z" fill="#1a64ad"/>
<path d="M365.40,256.39h3.6l-1.8,3.2z" fill="#1a64ad"/>
<path d="M367.80,256.64h3.6l-1.8,3.2z" fill="#1a64ad"/>
<path d="M370.20,256.89h3.6l-1.8,3.2z" fill="#1a64ad"/>
<path d="M372.60,257.14h3.6l-1.8,3.2z" fill="#1a64ad"/>
<path d="M375.00,257.38h3.6l-1.8,3.2z" fill="#1a64ad"/>
<path d="M377.40,257.63h3.6l-1.8,3.2z" fill="#1a64ad"/>
<path d="M379.80,258.21h3.6l-1.8,3.2z" fill="#1a64ad"/>
<path d="M382.20,259.43h3.6l-1.8,3.2z" fill="#1a64ad"/>
<path d="M384.60,260.65h3.6l-1.8,3.2z" fill="#1a64ad"/>
<path d="M387.00,261.04h3.6l-1.8,3.2z" fill="#1a64ad"/>
<path d="M389.40,261.22h3.6l-1.8,3.2z" fill="#1a64ad"/>
<path d="M391.80,261.40h3.6l-1.8,3.2z" fill="#1a64ad"/>
<path d="M394.20,261.58h3.6l-1.8,3.2z" fill="#1a64ad"/>
<path d="M396.60,261.72h3.6l-1.8,3.2z" fill="#1a64ad"/>
<path d="M399.00,261.84h3.6l-1.8,3.2z" fill="#1a64ad"/>
<path d="M401.40,261.97h3.6l-1.8,3.2z" fill="#1a64ad"/>
<path d="M403.80,262.09h3.6l-1.8,3.2z" fill="#1a64ad"/>
<path d="M406.20,262.22h3.6l-1.8,3.2z" fill="#1a64ad"/>
<path d="M408.60,262.34h3.6l-1.8,3.2z" fill="#1a64ad"/>
<path d="M411.00,262.71h3.6l-1.8,3.2z" fill="#1a64ad"/>
<path d="M413.40,263.30h3.6l-1.8,3.2z" fill="#1a64ad"/>
<path d="M415.80,263.88h3.6l-1.8,3.2z" fill="#1a64ad"/>
<path d="M418.20,264.08h3.6l-1.8,3.2z" fill="#1a64ad"/>
<path d="M420.60,264.27h3.6l-1.8,3.2z" fill="#1a64ad"/>
<path d="M423.00,264.45h3.6l-1.8,3.2z" fill="#1a64ad"/>
<path d="M425.40,264.64h3.6l-1.8,3.2z" fill="#1a64ad"/>
<path d="M427.80,267.47h3.6l-1.8,3.2z" fill="#1a64ad"/>
<path d="M430.20,267.75h3.6l-1.8,3.2z" fill="#1a64ad"/>
<path d="M432.60,268.04h3.6l-1.8,3.2z" fill="#1a64ad"/>
<path d="M435.00,268.97h3.6l-1.8,3.2z" fill="#1a64ad"/>
<path d="M437.40,269.90h3.6l-1.8,3.2z" fill="#1a64ad"/>
<path d="M439.80,269.90h3.6l-1.8,3.2z" fill="#1a64ad"/>
<path d="M442.20,269.90h3.6l-1.8,3.2z" fill="#1a64ad"/>
<path d="M444.60,269.90h3.6l-1.8,3.2z" fill="#1a64ad"/>
<path d="M447.00,269.90h3.6l-1.8,3.2z" fill="#1a64ad"/>
<path d="M449.40,269.90h3.6l-1.8,3.2z" fill="#1a64ad"/>
<path d="M451.80,269.90h3.6l-1.8,3.2z" fill="#1a64ad"/>
<path d="M454.20,269.90h3.6l-1.8,3.2z" fill="#1a64ad"/>
<path d="M456.60,269.90h3.6l-1.8,3.2z" fill="#1a64ad"/>
<path d="M459.00,269.90h3.6l-1.8,3.2z" fill="#1a64ad"/>
<path d="M461.40,269.90h3.6l-1.8,3.2z" fill="#1a64ad"/>
<rect x="65.30" y="195.30" width="2.4" height="2.4" fill="#a3000d"/>
<rect x="67.30" y="195.34" width="2.4" height="2.4" fill="#a3000d"/>
<rect x="69.30" y="195.39" width="2.4" height="2.4" fill="#a3000d"/>
<rect x="71.40" y="195.43" width="2.4" height="2.4" fill="#a3000d"/>
<rect x="83.80" y="195.71" width="2.4" height="2.4" fill="#a3000d"/>
<rect x="92.80" y="196.78" width="2.4" height="2.4" fill="#a3000d"/>
<rect x="102.80" y="196.80" width="2.4" height="2.4" fill="#a3000d"/>
<rect x="115.30" y="198.00" width="2.4" height="2.4" fill="#a3000d"/>
<rect x="127.30" y="199.12" width="2.4" height="2.4" fill="#a3000d"/>
<rect x="129.30" y="199.20" width="2.4" height="2.4" fill="#a3000d"/>
<rect x="134.80" y="199.42" width="2.4" height="2.4" fill="#a3000d"/>
<rect x="153.50" y="204.79" width="2.4" height="2.4" fill="#a3000d"/>
<rect x="166.30" y="205.28" width="2.4" height="2.4" fill="#a3000d"/>
<rect x="167.80" y="205.55" width="2.4" height="2.4" fill="#a3000d"/>
<rect x="181.30" y="208.72" width="2.4" height="2.4" fill="#a3000d"/>
<rect x="230.50" y="218.62" width="2.4" height="2.4" fill="#a3000d"/>
<rect x="242.80" y="222.13" width="2.4" height="2.4" fill="#a3000d"/>
<rect x="261.10" y="225.86" width="2.4" height="2.4" fill="#a3000d"/>
<rect x="271.30" y="226.64" width="2.4" height="2.4" fill="#a3000d"/>
<rect x="286.80" y="229.51" width="2.4" height="2.4" fill="#a3000d"/>
<rect x="288.80" y="230.11" width="2.4" height="2.4" fill="#a3000d"/>
<rect x="323.40" y="237.40" width="2.4" height="2.4" fill="#a3000d"/>
<rect x="361.80" y="244.65" width="2.4" height="2.4" fill="#a3000d"/>
<rect x="370.80" y="244.88" width="2.4" height="2.4" fill="#a3000d"/>
<rect x="376.80" y="246.18" width="2.4" height="2.4" fill="#a3000d"/>
<rect x="383.80" y="247.95" width="2.4" height="2.4" fill="#a3000d"/>
<rect x="391.80" y="249.79" width="2.4" height="2.4" fill="#a3000d"/>
<rect x="398.80" y="251.36" width="2.4" height="2.4" fill="#a3000d"/>
<rect x="403.80" y="253.62" width="2.4" height="2.4" fill="#a3000d"/>
<rect x="411.80" y="254.29" width="2.4" height="2.4" fill="#a3000d"/>
<rect x="418.80" y="255.10" width="2.4" height="2.4" fill="#a3000d"/>
<rect x="426.80" y="255.10" width="2.4" height="2.4" fill="#a3000d"/>
<rect x="431.80" y="256.50" width="2.4" height="2.4" fill="#a3000d"/>
<rect x="438.80" y="256.50" width="2.4" height="2.4" fill="#a3000d"/>
<rect x="445.80" y="256.50" width="2.4" height="2.4" fill="#a3000d"/>
<rect x="451.80" y="256.50" width="2.4" height="2.4" fill="#a3000d"/>
<rect x="492.30" y="265.70" width="2.4" height="2.4" fill="#a3000d"/>
<rect x="373.80" y="245.41" width="2.4" height="2.4" fill="#a3000d"/>
<rect x="376.40" y="246.08" width="2.4" height="2.4" fill="#a3000d"/>
<rect x="379.00" y="246.75" width="2.4" height="2.4" fill="#a3000d"/>
<rect x="381.60" y="247.40" width="2.4" height="2.4" fill="#a3000d"/>
<rect x="384.20" y="248.05" width="2.4" height="2.4" fill="#a3000d"/>
<rect x="386.80" y="248.70" width="2.4" height="2.4" fill="#a3000d"/>
<rect x="389.40" y="249.32" width="2.4" height="2.4" fill="#a3000d"/>
<rect x="392.00" y="249.83" width="2.4" height="2.4" fill="#a3000d"/>
<rect x="394.60" y="250.33" width="2.4" height="2.4" fill="#a3000d"/>
<rect x="397.20" y="250.84" width="2.4" height="2.4" fill="#a3000d"/>
<rect x="399.80" y="251.81" width="2.4" height="2.4" fill="#a3000d"/>
<rect x="402.40" y="252.99" width="2.4" height="2.4" fill="#a3000d"/>
<rect x="405.00" y="253.85" width="2.4" height="2.4" fill="#a3000d"/>
<rect x="407.60" y="254.02" width="2.4" height="2.4" fill="#a3000d"/>
<rect x="410.20" y="254.19" width="2.4" height="2.4" fill="#a3000d"/>
<rect x="412.80" y="254.78" width="2.4" height="2.4" fill="#a3000d"/>
<rect x="415.40" y="255.10" width="2.4" height="2.4" fill="#a3000d"/>
<rect x="418.00" y="255.10" width="2.4" height="2.4" fill="#a3000d"/>
<rect x="420.60" y="255.10" width="2.4" height="2.4" fill="#a3000d"/>
<rect x="423.20" y="255.10" width="2.4" height="2.4" fill="#a3000d"/>
<rect x="425.80" y="255.10" width="2.4" height="2.4" fill="#a3000d"/>
<rect x="428.40" y="255.10" width="2.4" height="2.4" fill="#a3000d"/>
<rect x="431.00" y="256.50" width="2.4" height="2.4" fill="#a3000d"/>
<rect x="433.60" y="256.50" width="2.4" height="2.4" fill="#a3000d"/>
<rect x="436.20" y="256.50" width="2.4" height="2.4" fill="#a3000d"/>
<rect x="438.80" y="256.50" width="2.4" height="2.4" fill="#a3000d"/>
<rect x="441.40" y="256.50" width="2.4" height="2.4" fill="#a3000d"/>
<rect x="444.00" y="256.50" width="2.4" height="2.4" fill="#a3000d"/>
<rect x="446.60" y="256.50" width="2.4" height="2.4" fill="#a3000d"/>
<rect x="449.20" y="256.50" width="2.4" height="2.4" fill="#a3000d"/>
<rect x="451.80" y="256.50" width="2.4" height="2.4" fill="#a3000d"/>
<rect x="454.40" y="256.50" width="2.4" height="2.4" fill="#a3000d"/>
<rect x="457.00" y="256.50" width="2.4" height="2.4" fill="#a3000d"/>
<rect x="459.80" y="265.70" width="2.4" height="2.4" fill="#a3000d"/>
<rect x="462.00" y="265.70" width="2.4" height="2.4" fill="#a3000d"/>
<rect x="464.20" y="265.70" width="2.4" height="2.4" fill="#a3000d"/>
<rect x="466.40" y="265.70" width="2.4" height="2.4" fill="#a3000d"/>
<rect x="468.60" y="265.70" width="2.4" height="2.4" fill="#a3000d"/>
<rect x="470.80" y="265.70" width="2.4" height="2.4" fill="#a3000d"/>
<rect x="54.60" y="257.00" width="173.40" height="56.00" fill="#fff" stroke="#c4c4c4" stroke-width="1"/>
<rect x="126.50" y="256.50" width="50.00" height="14.00" fill="#cb0012"/>
<rect x="177.90" y="256.50" width="50.10" height="14.00" fill="#1b70c4"/>
<line x1="54.60" y1="271.00" x2="228.00" y2="271.00" stroke="#c4c4c4" stroke-width="1"/>
<line x1="54.60" y1="285.60" x2="228.00" y2="285.60" stroke="#c4c4c4" stroke-width="1"/>
<line x1="54.60" y1="299.60" x2="228.00" y2="299.60" stroke="#c4c4c4" stroke-width="1"/>
<line x1="126.50" y1="271.00" x2="126.50" y2="313.00" stroke="#c4c4c4" stroke-width="1"/>
<line x1="177.00" y1="271.00" x2="177.00" y2="299.60" stroke="#c4c4c4" stroke-width="1"/>
<text x="151.75" y="266.52" font-size="7.0" text-anchor="middle" font-weight="bold" fill="#fff" >RIB + ET</text>
<text x="202.50" y="266.52" font-size="7.0" text-anchor="middle" font-weight="bold" fill="#fff" >PBO + ET</text>
<text x="90.55" y="280.82" font-size="7.0" font-weight="bold" text-anchor="middle" fill="#111">Events/<tspan font-style="italic">n</tspan></text>
<text x="90.55" y="295.12" font-size="7.0" text-anchor="middle" font-weight="bold" fill="#111" >OS, median, mo</text>
<text x="90.55" y="308.64" font-size="6.5" text-anchor="middle" font-weight="bold" fill="#111" >Hazard ratio (95% CI)</text>
<text x="151.75" y="280.82" font-size="7.0" text-anchor="middle" font-weight="normal" fill="#111" >107/248</text>
<text x="202.50" y="280.82" font-size="7.0" text-anchor="middle" font-weight="normal" fill="#111" >120/247</text>
<text x="151.75" y="295.12" font-size="7.0" text-anchor="middle" font-weight="normal" fill="#111" >58.7</text>
<text x="202.50" y="295.12" font-size="7.0" text-anchor="middle" font-weight="normal" fill="#111" >47.7</text>
<text x="178.15" y="308.82" font-size="7.0" text-anchor="middle" font-weight="normal" fill="#111" >0.798 (0.615–1.035)</text>
</g>
<g>
<path d="M52.80,373.90V499.50H509.69" fill="none" stroke="#3a3a3a" stroke-width="1.1"/>
<line x1="48.50" y1="499.50" x2="52.80" y2="499.50" stroke="#3a3a3a" stroke-width="0.9"/>
<text x="44.80" y="503.11" font-size="7.8" text-anchor="end" font-weight="normal" fill="#111" >0</text>
<line x1="48.50" y1="474.82" x2="52.80" y2="474.82" stroke="#3a3a3a" stroke-width="0.9"/>
<text x="44.80" y="478.43" font-size="7.8" text-anchor="end" font-weight="normal" fill="#111" >20</text>
<line x1="48.50" y1="450.14" x2="52.80" y2="450.14" stroke="#3a3a3a" stroke-width="0.9"/>
<text x="44.80" y="453.75" font-size="7.8" text-anchor="end" font-weight="normal" fill="#111" >40</text>
<line x1="48.50" y1="425.46" x2="52.80" y2="425.46" stroke="#3a3a3a" stroke-width="0.9"/>
<text x="44.80" y="429.07" font-size="7.8" text-anchor="end" font-weight="normal" fill="#111" >60</text>
<line x1="48.50" y1="400.78" x2="52.80" y2="400.78" stroke="#3a3a3a" stroke-width="0.9"/>
<text x="44.80" y="404.39" font-size="7.8" text-anchor="end" font-weight="normal" fill="#111" >80</text>
<line x1="48.50" y1="376.10" x2="52.80" y2="376.10" stroke="#3a3a3a" stroke-width="0.9"/>
<text x="44.80" y="379.71" font-size="7.8" text-anchor="end" font-weight="normal" fill="#111" >100</text>
<line x1="52.80" y1="499.50" x2="52.80" y2="503.10" stroke="#3a3a3a" stroke-width="0.9"/>
<text x="54.10" y="513.41" font-size="7.8" text-anchor="middle" font-weight="normal" fill="#111" >0</text>
<line x1="66.63" y1="499.50" x2="66.63" y2="503.10" stroke="#3a3a3a" stroke-width="0.9"/>
<text x="67.93" y="513.41" font-size="7.8" text-anchor="middle" font-weight="normal" fill="#111" >2</text>
<line x1="80.46" y1="499.50" x2="80.46" y2="503.10" stroke="#3a3a3a" stroke-width="0.9"/>
<text x="81.76" y="513.41" font-size="7.8" text-anchor="middle" font-weight="normal" fill="#111" >4</text>
<line x1="94.29" y1="499.50" x2="94.29" y2="503.10" stroke="#3a3a3a" stroke-width="0.9"/>
<text x="95.59" y="513.41" font-size="7.8" text-anchor="middle" font-weight="normal" fill="#111" >6</text>
<line x1="108.12" y1="499.50" x2="108.12" y2="503.10" stroke="#3a3a3a" stroke-width="0.9"/>
<text x="109.42" y="513.41" font-size="7.8" text-anchor="middle" font-weight="normal" fill="#111" >8</text>
<line x1="121.95" y1="499.50" x2="121.95" y2="503.10" stroke="#3a3a3a" stroke-width="0.9"/>
<text x="123.25" y="513.41" font-size="7.8" text-anchor="middle" font-weight="normal" fill="#111" >10</text>
<line x1="135.78" y1="499.50" x2="135.78" y2="503.10" stroke="#3a3a3a" stroke-width="0.9"/>
<text x="137.08" y="513.41" font-size="7.8" text-anchor="middle" font-weight="normal" fill="#111" >12</text>
<line x1="149.61" y1="499.50" x2="149.61" y2="503.10" stroke="#3a3a3a" stroke-width="0.9"/>
<text x="150.91" y="513.41" font-size="7.8" text-anchor="middle" font-weight="normal" fill="#111" >14</text>
<line x1="163.44" y1="499.50" x2="163.44" y2="503.10" stroke="#3a3a3a" stroke-width="0.9"/>
<text x="164.74" y="513.41" font-size="7.8" text-anchor="middle" font-weight="normal" fill="#111" >16</text>
<line x1="177.27" y1="499.50" x2="177.27" y2="503.10" stroke="#3a3a3a" stroke-width="0.9"/>
<text x="178.57" y="513.41" font-size="7.8" text-anchor="middle" font-weight="normal" fill="#111" >18</text>
<line x1="191.10" y1="499.50" x2="191.10" y2="503.10" stroke="#3a3a3a" stroke-width="0.9"/>
<text x="192.40" y="513.41" font-size="7.8" text-anchor="middle" font-weight="normal" fill="#111" >20</text>
<line x1="204.93" y1="499.50" x2="204.93" y2="503.10" stroke="#3a3a3a" stroke-width="0.9"/>
<text x="206.23" y="513.41" font-size="7.8" text-anchor="middle" font-weight="normal" fill="#111" >22</text>
<line x1="218.76" y1="499.50" x2="218.76" y2="503.10" stroke="#3a3a3a" stroke-width="0.9"/>
<text x="220.06" y="513.41" font-size="7.8" text-anchor="middle" font-weight="normal" fill="#111" >24</text>
<line x1="232.59" y1="499.50" x2="232.59" y2="503.10" stroke="#3a3a3a" stroke-width="0.9"/>
<text x="233.89" y="513.41" font-size="7.8" text-anchor="middle" font-weight="normal" fill="#111" >26</text>
<line x1="246.42" y1="499.50" x2="246.42" y2="503.10" stroke="#3a3a3a" stroke-width="0.9"/>
<text x="247.72" y="513.41" font-size="7.8" text-anchor="middle" font-weight="normal" fill="#111" >28</text>
<line x1="260.25" y1="499.50" x2="260.25" y2="503.10" stroke="#3a3a3a" stroke-width="0.9"/>
<text x="261.55" y="513.41" font-size="7.8" text-anchor="middle" font-weight="normal" fill="#111" >30</text>
<line x1="274.08" y1="499.50" x2="274.08" y2="503.10" stroke="#3a3a3a" stroke-width="0.9"/>
<text x="275.38" y="513.41" font-size="7.8" text-anchor="middle" font-weight="normal" fill="#111" >32</text>
<line x1="287.91" y1="499.50" x2="287.91" y2="503.10" stroke="#3a3a3a" stroke-width="0.9"/>
<text x="289.21" y="513.41" font-size="7.8" text-anchor="middle" font-weight="normal" fill="#111" >34</text>
<line x1="301.74" y1="499.50" x2="301.74" y2="503.10" stroke="#3a3a3a" stroke-width="0.9"/>
<text x="303.04" y="513.41" font-size="7.8" text-anchor="middle" font-weight="normal" fill="#111" >36</text>
<line x1="315.57" y1="499.50" x2="315.57" y2="503.10" stroke="#3a3a3a" stroke-width="0.9"/>
<text x="316.87" y="513.41" font-size="7.8" text-anchor="middle" font-weight="normal" fill="#111" >38</text>
<line x1="329.40" y1="499.50" x2="329.40" y2="503.10" stroke="#3a3a3a" stroke-width="0.9"/>
<text x="330.70" y="513.41" font-size="7.8" text-anchor="middle" font-weight="normal" fill="#111" >40</text>
<line x1="343.23" y1="499.50" x2="343.23" y2="503.10" stroke="#3a3a3a" stroke-width="0.9"/>
<text x="344.53" y="513.41" font-size="7.8" text-anchor="middle" font-weight="normal" fill="#111" >42</text>
<line x1="357.06" y1="499.50" x2="357.06" y2="503.10" stroke="#3a3a3a" stroke-width="0.9"/>
<text x="358.36" y="513.41" font-size="7.8" text-anchor="middle" font-weight="normal" fill="#111" >44</text>
<line x1="370.89" y1="499.50" x2="370.89" y2="503.10" stroke="#3a3a3a" stroke-width="0.9"/>
<text x="372.19" y="513.41" font-size="7.8" text-anchor="middle" font-weight="normal" fill="#111" >46</text>
<line x1="384.72" y1="499.50" x2="384.72" y2="503.10" stroke="#3a3a3a" stroke-width="0.9"/>
<text x="386.02" y="513.41" font-size="7.8" text-anchor="middle" font-weight="normal" fill="#111" >48</text>
<line x1="398.55" y1="499.50" x2="398.55" y2="503.10" stroke="#3a3a3a" stroke-width="0.9"/>
<text x="399.85" y="513.41" font-size="7.8" text-anchor="middle" font-weight="normal" fill="#111" >50</text>
<line x1="412.38" y1="499.50" x2="412.38" y2="503.10" stroke="#3a3a3a" stroke-width="0.9"/>
<text x="413.68" y="513.41" font-size="7.8" text-anchor="middle" font-weight="normal" fill="#111" >52</text>
<line x1="426.21" y1="499.50" x2="426.21" y2="503.10" stroke="#3a3a3a" stroke-width="0.9"/>
<text x="427.51" y="513.41" font-size="7.8" text-anchor="middle" font-weight="normal" fill="#111" >54</text>
<line x1="440.04" y1="499.50" x2="440.04" y2="503.10" stroke="#3a3a3a" stroke-width="0.9"/>
<text x="441.34" y="513.41" font-size="7.8" text-anchor="middle" font-weight="normal" fill="#111" >56</text>
<line x1="453.87" y1="499.50" x2="453.87" y2="503.10" stroke="#3a3a3a" stroke-width="0.9"/>
<text x="455.17" y="513.41" font-size="7.8" text-anchor="middle" font-weight="normal" fill="#111" >58</text>
<line x1="467.70" y1="499.50" x2="467.70" y2="503.10" stroke="#3a3a3a" stroke-width="0.9"/>
<text x="469.00" y="513.41" font-size="7.8" text-anchor="middle" font-weight="normal" fill="#111" >60</text>
<line x1="481.53" y1="499.50" x2="481.53" y2="503.10" stroke="#3a3a3a" stroke-width="0.9"/>
<text x="482.83" y="513.41" font-size="7.8" text-anchor="middle" font-weight="normal" fill="#111" >62</text>
<line x1="495.36" y1="499.50" x2="495.36" y2="503.10" stroke="#3a3a3a" stroke-width="0.9"/>
<text x="496.66" y="513.41" font-size="7.8" text-anchor="middle" font-weight="normal" fill="#111" >64</text>
<line x1="509.19" y1="499.50" x2="509.19" y2="503.10" stroke="#3a3a3a" stroke-width="0.9"/>
<text x="510.49" y="513.41" font-size="7.8" text-anchor="middle" font-weight="normal" fill="#111" >66</text>
<text transform="translate(27.32,438.70) rotate(-90)" font-size="7.0" font-weight="bold" text-anchor="middle" fill="#111">OS, %</text>
<text x="5.00" y="379.80" font-size="12.6" font-weight="bold" fill="#000">C</text>
<text x="2.90" y="528.12" font-size="7.0" text-anchor="start" font-weight="bold" fill="#111" >No. at risk</text>
<text x="260.90" y="526.32" font-size="7.0" text-anchor="middle" font-weight="bold" fill="#111" >Months</text>
<text x="2.90" y="536.82" font-size="7.0" text-anchor="start" font-weight="normal" fill="#111" >Ribociclib</text>
<text x="2.90" y="545.42" font-size="7.0" text-anchor="start" font-weight="normal" fill="#111" >Placebo</text>
<text x="52.70" y="536.82" font-size="7.0" text-anchor="middle" font-weight="normal" fill="#111" >87</text>
<text x="52.70" y="545.42" font-size="7.0" text-anchor="middle" font-weight="normal" fill="#111" >90</text>
<text x="66.53" y="536.82" font-size="7.0" text-anchor="middle" font-weight="normal" fill="#111" >85</text>
<text x="66.53" y="545.42" font-size="7.0" text-anchor="middle" font-weight="normal" fill="#111" >90</text>
<text x="80.36" y="536.82" font-size="7.0" text-anchor="middle" font-weight="normal" fill="#111" >84</text>
<text x="80.36" y="545.42" font-size="7.0" text-anchor="middle" font-weight="normal" fill="#111" >89</text>
<text x="94.19" y="536.82" font-size="7.0" text-anchor="middle" font-weight="normal" fill="#111" >84</text>
<text x="94.19" y="545.42" font-size="7.0" text-anchor="middle" font-weight="normal" fill="#111" >89</text>
<text x="108.02" y="536.82" font-size="7.0" text-anchor="middle" font-weight="normal" fill="#111" >83</text>
<text x="108.02" y="545.42" font-size="7.0" text-anchor="middle" font-weight="normal" fill="#111" >89</text>
<text x="121.85" y="536.82" font-size="7.0" text-anchor="middle" font-weight="normal" fill="#111" >79</text>
<text x="121.85" y="545.42" font-size="7.0" text-anchor="middle" font-weight="normal" fill="#111" >88</text>
<text x="135.68" y="536.82" font-size="7.0" text-anchor="middle" font-weight="normal" fill="#111" >78</text>
<text x="135.68" y="545.42" font-size="7.0" text-anchor="middle" font-weight="normal" fill="#111" >86</text>
<text x="149.51" y="536.82" font-size="7.0" text-anchor="middle" font-weight="normal" fill="#111" >76</text>
<text x="149.51" y="545.42" font-size="7.0" text-anchor="middle" font-weight="normal" fill="#111" >86</text>
<text x="163.34" y="536.82" font-size="7.0" text-anchor="middle" font-weight="normal" fill="#111" >74</text>
<text x="163.34" y="545.42" font-size="7.0" text-anchor="middle" font-weight="normal" fill="#111" >84</text>
<text x="177.17" y="536.82" font-size="7.0" text-anchor="middle" font-weight="normal" fill="#111" >73</text>
<text x="177.17" y="545.42" font-size="7.0" text-anchor="middle" font-weight="normal" fill="#111" >81</text>
<text x="191.00" y="536.82" font-size="7.0" text-anchor="middle" font-weight="normal" fill="#111" >73</text>
<text x="191.00" y="545.42" font-size="7.0" text-anchor="middle" font-weight="normal" fill="#111" >79</text>
<text x="204.83" y="536.82" font-size="7.0" text-anchor="middle" font-weight="normal" fill="#111" >70</text>
<text x="204.83" y="545.42" font-size="7.0" text-anchor="middle" font-weight="normal" fill="#111" >75</text>
<text x="218.66" y="536.82" font-size="7.0" text-anchor="middle" font-weight="normal" fill="#111" >66</text>
<text x="218.66" y="545.42" font-size="7.0" text-anchor="middle" font-weight="normal" fill="#111" >72</text>
<text x="232.49" y="536.82" font-size="7.0" text-anchor="middle" font-weight="normal" fill="#111" >65</text>
<text x="232.49" y="545.42" font-size="7.0" text-anchor="middle" font-weight="normal" fill="#111" >69</text>
<text x="246.32" y="536.82" font-size="7.0" text-anchor="middle" font-weight="normal" fill="#111" >65</text>
<text x="246.32" y="545.42" font-size="7.0" text-anchor="middle" font-weight="normal" fill="#111" >66</text>
<text x="260.15" y="536.82" font-size="7.0" text-anchor="middle" font-weight="normal" fill="#111" >62</text>
<text x="260.15" y="545.42" font-size="7.0" text-anchor="middle" font-weight="normal" fill="#111" >61</text>
<text x="273.98" y="536.82" font-size="7.0" text-anchor="middle" font-weight="normal" fill="#111" >61</text>
<text x="273.98" y="545.42" font-size="7.0" text-anchor="middle" font-weight="normal" fill="#111" >61</text>
<text x="287.81" y="536.82" font-size="7.0" text-anchor="middle" font-weight="normal" fill="#111" >60</text>
<text x="287.81" y="545.42" font-size="7.0" text-anchor="middle" font-weight="normal" fill="#111" >56</text>
<text x="301.64" y="536.82" font-size="7.0" text-anchor="middle" font-weight="normal" fill="#111" >56</text>
<text x="301.64" y="545.42" font-size="7.0" text-anchor="middle" font-weight="normal" fill="#111" >55</text>
<text x="315.47" y="536.82" font-size="7.0" text-anchor="middle" font-weight="normal" fill="#111" >55</text>
<text x="315.47" y="545.42" font-size="7.0" text-anchor="middle" font-weight="normal" fill="#111" >52</text>
<text x="329.30" y="536.82" font-size="7.0" text-anchor="middle" font-weight="normal" fill="#111" >55</text>
<text x="329.30" y="545.42" font-size="7.0" text-anchor="middle" font-weight="normal" fill="#111" >51</text>
<text x="343.13" y="536.82" font-size="7.0" text-anchor="middle" font-weight="normal" fill="#111" >54</text>
<text x="343.13" y="545.42" font-size="7.0" text-anchor="middle" font-weight="normal" fill="#111" >49</text>
<text x="356.96" y="536.82" font-size="7.0" text-anchor="middle" font-weight="normal" fill="#111" >53</text>
<text x="356.96" y="545.42" font-size="7.0" text-anchor="middle" font-weight="normal" fill="#111" >48</text>
<text x="370.79" y="536.82" font-size="7.0" text-anchor="middle" font-weight="normal" fill="#111" >51</text>
<text x="370.79" y="545.42" font-size="7.0" text-anchor="middle" font-weight="normal" fill="#111" >44</text>
<text x="384.62" y="536.82" font-size="7.0" text-anchor="middle" font-weight="normal" fill="#111" >44</text>
<text x="384.62" y="545.42" font-size="7.0" text-anchor="middle" font-weight="normal" fill="#111" >38</text>
<text x="398.45" y="536.82" font-size="7.0" text-anchor="middle" font-weight="normal" fill="#111" >37</text>
<text x="398.45" y="545.42" font-size="7.0" text-anchor="middle" font-weight="normal" fill="#111" >26</text>
<text x="412.28" y="536.82" font-size="7.0" text-anchor="middle" font-weight="normal" fill="#111" >27</text>
<text x="412.28" y="545.42" font-size="7.0" text-anchor="middle" font-weight="normal" fill="#111" >17</text>
<text x="426.11" y="536.82" font-size="7.0" text-anchor="middle" font-weight="normal" fill="#111" >17</text>
<text x="426.11" y="545.42" font-size="7.0" text-anchor="middle" font-weight="normal" fill="#111" >12</text>
<text x="439.94" y="536.82" font-size="7.0" text-anchor="middle" font-weight="normal" fill="#111" >12</text>
<text x="439.94" y="545.42" font-size="7.0" text-anchor="middle" font-weight="normal" fill="#111" >8</text>
<text x="453.77" y="536.82" font-size="7.0" text-anchor="middle" font-weight="normal" fill="#111" >8</text>
<text x="453.77" y="545.42" font-size="7.0" text-anchor="middle" font-weight="normal" fill="#111" >7</text>
<text x="467.60" y="536.82" font-size="7.0" text-anchor="middle" font-weight="normal" fill="#111" >3</text>
<text x="467.60" y="545.42" font-size="7.0" text-anchor="middle" font-weight="normal" fill="#111" >3</text>
<text x="481.43" y="536.82" font-size="7.0" text-anchor="middle" font-weight="normal" fill="#111" >1</text>
<text x="481.43" y="545.42" font-size="7.0" text-anchor="middle" font-weight="normal" fill="#111" >2</text>
<text x="495.26" y="536.82" font-size="7.0" text-anchor="middle" font-weight="normal" fill="#111" >1</text>
<text x="495.26" y="545.42" font-size="7.0" text-anchor="middle" font-weight="normal" fill="#111" >0</text>
<text x="509.09" y="536.82" font-size="7.0" text-anchor="middle" font-weight="normal" fill="#111" >0</text>
<text x="509.09" y="545.42" font-size="7.0" text-anchor="middle" font-weight="normal" fill="#111" >0</text>
<path d="M52.6,375.9 L60.8,375.9 L60.8,377.4 L110.8,377.4 L110.8,378.5 L126.9,378.5 L126.9,379.8 L151.9,379.8 L160.4,382.0 L171.2,384.3 L178.8,386.7 L189.6,389.7 L195.8,392.8 L197.3,393.9 L204.6,394.7 L209.2,396.3 L218.5,397.8 L224.6,400.4 L233.8,400.4 L240.0,404.0 L249.2,404.7 L253.8,407.0 L258.5,412.2 L275.0,412.2 L277.3,414.7 L281.9,417.0 L286.5,419.3 L301.2,419.3 L304.2,422.4 L313.5,422.4 L315.8,425.0 L334.2,425.0 L334.2,427.0 L350.4,427.0 L357.7,428.2 L365.4,429.7 L370.0,432.8 L373.1,434.3 L386.9,434.3 L389.2,437.4 L395.4,439.7 L400.0,443.6 L406.2,445.1 L409.2,447.4 L412.3,450.1 L494.4,450.1" fill="none" stroke="#1f73bd" stroke-width="1.05" stroke-linejoin="round"/>
<path d="M52.6,375.9 L59.2,375.9 L59.2,377.0 L63.1,377.0 L63.1,378.5 L73.1,378.5 L73.1,380.0 L109.2,380.0 L110.8,383.1 L114.6,384.3 L119.2,385.9 L131.0,385.9 L131.0,387.5 L136.5,387.5 L136.5,388.8 L140.4,388.8 L140.4,390.1 L150.4,390.1 L151.2,393.6 L172.7,393.6 L172.7,394.8 L197.3,394.8 L200.4,396.8 L206.2,399.3 L213.8,399.8 L215.4,402.7 L220.0,404.0 L255.4,404.0 L258.5,405.5 L260.8,406.7 L291.2,406.7 L291.2,408.6 L298.8,410.4 L301.9,411.7 L310.4,411.7 L310.4,413.5 L335.8,413.5 L335.8,415.0 L364.6,415.0 L364.6,416.7 L379.2,416.7 L382.3,420.2 L391.5,420.2 L394.6,424.3 L400.0,425.9 L406.9,428.2 L410.0,429.7 L412.3,431.6 L498.7,431.6" fill="none" stroke="#bb0f1c" stroke-width="1.05" stroke-linejoin="round"/>
<path d="M65.70,377.10h3.6l-1.8,3.2z" fill="#1a64ad"/>
<path d="M124.20,378.20h3.6l-1.8,3.2z" fill="#1a64ad"/>
<path d="M212.00,396.74h3.6l-1.8,3.2z" fill="#1a64ad"/>
<path d="M230.50,400.10h3.6l-1.8,3.2z" fill="#1a64ad"/>
<path d="M324.00,424.70h3.6l-1.8,3.2z" fill="#1a64ad"/>
<path d="M331.40,424.70h3.6l-1.8,3.2z" fill="#1a64ad"/>
<path d="M370.50,433.61h3.6l-1.8,3.2z" fill="#1a64ad"/>
<path d="M379.00,434.00h3.6l-1.8,3.2z" fill="#1a64ad"/>
<path d="M382.80,434.00h3.6l-1.8,3.2z" fill="#1a64ad"/>
<path d="M386.70,436.16h3.6l-1.8,3.2z" fill="#1a64ad"/>
<path d="M393.60,439.40h3.6l-1.8,3.2z" fill="#1a64ad"/>
<path d="M398.20,443.30h3.6l-1.8,3.2z" fill="#1a64ad"/>
<path d="M402.80,444.41h3.6l-1.8,3.2z" fill="#1a64ad"/>
<path d="M405.90,445.95h3.6l-1.8,3.2z" fill="#1a64ad"/>
<path d="M413.60,449.80h3.6l-1.8,3.2z" fill="#1a64ad"/>
<path d="M418.20,449.80h3.6l-1.8,3.2z" fill="#1a64ad"/>
<path d="M421.20,449.80h3.6l-1.8,3.2z" fill="#1a64ad"/>
<path d="M424.40,449.80h3.6l-1.8,3.2z" fill="#1a64ad"/>
<path d="M431.20,449.80h3.6l-1.8,3.2z" fill="#1a64ad"/>
<path d="M435.20,449.80h3.6l-1.8,3.2z" fill="#1a64ad"/>
<path d="M444.40,449.80h3.6l-1.8,3.2z" fill="#1a64ad"/>
<path d="M452.80,449.80h3.6l-1.8,3.2z" fill="#1a64ad"/>
<path d="M460.50,449.80h3.6l-1.8,3.2z" fill="#1a64ad"/>
<path d="M465.90,449.80h3.6l-1.8,3.2z" fill="#1a64ad"/>
<path d="M487.40,449.80h3.6l-1.8,3.2z" fill="#1a64ad"/>
<path d="M492.00,449.80h3.6l-1.8,3.2z" fill="#1a64ad"/>
<path d="M393.20,439.25h3.6l-1.8,3.2z" fill="#1a64ad"/>
<path d="M395.70,441.18h3.6l-1.8,3.2z" fill="#1a64ad"/>
<path d="M398.20,443.30h3.6l-1.8,3.2z" fill="#1a64ad"/>
<path d="M400.70,443.90h3.6l-1.8,3.2z" fill="#1a64ad"/>
<path d="M403.20,444.51h3.6l-1.8,3.2z" fill="#1a64ad"/>
<path d="M405.70,445.80h3.6l-1.8,3.2z" fill="#1a64ad"/>
<path d="M408.20,447.80h3.6l-1.8,3.2z" fill="#1a64ad"/>
<path d="M410.70,449.80h3.6l-1.8,3.2z" fill="#1a64ad"/>
<path d="M413.20,449.80h3.6l-1.8,3.2z" fill="#1a64ad"/>
<rect x="92.80" y="378.80" width="2.4" height="2.4" fill="#a3000d"/>
<rect x="193.80" y="393.60" width="2.4" height="2.4" fill="#a3000d"/>
<rect x="210.80" y="398.48" width="2.4" height="2.4" fill="#a3000d"/>
<rect x="254.20" y="402.80" width="2.4" height="2.4" fill="#a3000d"/>
<rect x="256.50" y="403.91" width="2.4" height="2.4" fill="#a3000d"/>
<rect x="276.80" y="405.50" width="2.4" height="2.4" fill="#a3000d"/>
<rect x="296.10" y="408.84" width="2.4" height="2.4" fill="#a3000d"/>
<rect x="354.20" y="413.80" width="2.4" height="2.4" fill="#a3000d"/>
<rect x="362.60" y="413.80" width="2.4" height="2.4" fill="#a3000d"/>
<rect x="370.30" y="415.50" width="2.4" height="2.4" fill="#a3000d"/>
<rect x="374.20" y="415.50" width="2.4" height="2.4" fill="#a3000d"/>
<rect x="377.30" y="415.50" width="2.4" height="2.4" fill="#a3000d"/>
<rect x="381.80" y="419.00" width="2.4" height="2.4" fill="#a3000d"/>
<rect x="388.00" y="419.00" width="2.4" height="2.4" fill="#a3000d"/>
<rect x="393.40" y="423.10" width="2.4" height="2.4" fill="#a3000d"/>
<rect x="398.80" y="424.70" width="2.4" height="2.4" fill="#a3000d"/>
<rect x="401.80" y="425.70" width="2.4" height="2.4" fill="#a3000d"/>
<rect x="408.00" y="428.11" width="2.4" height="2.4" fill="#a3000d"/>
<rect x="411.80" y="430.40" width="2.4" height="2.4" fill="#a3000d"/>
<rect x="415.80" y="430.40" width="2.4" height="2.4" fill="#a3000d"/>
<rect x="418.80" y="430.40" width="2.4" height="2.4" fill="#a3000d"/>
<rect x="424.80" y="430.40" width="2.4" height="2.4" fill="#a3000d"/>
<rect x="429.60" y="430.40" width="2.4" height="2.4" fill="#a3000d"/>
<rect x="431.80" y="430.40" width="2.4" height="2.4" fill="#a3000d"/>
<rect x="440.30" y="430.40" width="2.4" height="2.4" fill="#a3000d"/>
<rect x="448.00" y="430.40" width="2.4" height="2.4" fill="#a3000d"/>
<rect x="450.80" y="430.40" width="2.4" height="2.4" fill="#a3000d"/>
<rect x="453.40" y="430.40" width="2.4" height="2.4" fill="#a3000d"/>
<rect x="455.80" y="430.40" width="2.4" height="2.4" fill="#a3000d"/>
<rect x="459.60" y="430.40" width="2.4" height="2.4" fill="#a3000d"/>
<rect x="464.80" y="430.40" width="2.4" height="2.4" fill="#a3000d"/>
<rect x="466.80" y="430.40" width="2.4" height="2.4" fill="#a3000d"/>
<rect x="470.30" y="430.40" width="2.4" height="2.4" fill="#a3000d"/>
<rect x="497.30" y="430.40" width="2.4" height="2.4" fill="#a3000d"/>
<rect x="58.50" y="438.40" width="169.50" height="57.00" fill="#fff" stroke="#c4c4c4" stroke-width="1"/>
<rect x="125.60" y="437.90" width="50.50" height="14.00" fill="#cb0012"/>
<rect x="177.50" y="437.90" width="50.50" height="14.00" fill="#1b70c4"/>
<line x1="58.50" y1="452.40" x2="228.00" y2="452.40" stroke="#c4c4c4" stroke-width="1"/>
<line x1="58.50" y1="466.50" x2="228.00" y2="466.50" stroke="#c4c4c4" stroke-width="1"/>
<line x1="58.50" y1="480.80" x2="228.00" y2="480.80" stroke="#c4c4c4" stroke-width="1"/>
<line x1="125.60" y1="452.40" x2="125.60" y2="495.40" stroke="#c4c4c4" stroke-width="1"/>
<line x1="176.60" y1="452.40" x2="176.60" y2="480.80" stroke="#c4c4c4" stroke-width="1"/>
<text x="151.10" y="447.92" font-size="7.0" text-anchor="middle" font-weight="bold" fill="#fff" >RIB + ET</text>
<text x="202.30" y="447.92" font-size="7.0" text-anchor="middle" font-weight="bold" fill="#fff" >PBO + ET</text>
<text x="92.05" y="461.97" font-size="7.0" font-weight="bold" text-anchor="middle" fill="#111">Events/<tspan font-style="italic">n</tspan></text>
<text x="92.05" y="476.17" font-size="7.0" text-anchor="middle" font-weight="bold" fill="#111" >OS, median, mo</text>
<text x="92.05" y="490.44" font-size="6.5" text-anchor="middle" font-weight="bold" fill="#111" >Hazard ratio (95% CI)</text>
<text x="151.10" y="461.97" font-size="7.0" text-anchor="middle" font-weight="normal" fill="#111" >34/87</text>
<text x="202.30" y="461.97" font-size="7.0" text-anchor="middle" font-weight="normal" fill="#111" >47/90</text>
<text x="151.10" y="476.17" font-size="7.0" text-anchor="middle" font-weight="normal" fill="#111" >NR</text>
<text x="202.30" y="476.17" font-size="7.0" text-anchor="middle" font-weight="normal" fill="#111" >49.3</text>
<text x="177.70" y="490.62" font-size="7.0" text-anchor="middle" font-weight="normal" fill="#111" >0.705 (0.453–1.097)</text>
</g>
</svg>
</body></html>
